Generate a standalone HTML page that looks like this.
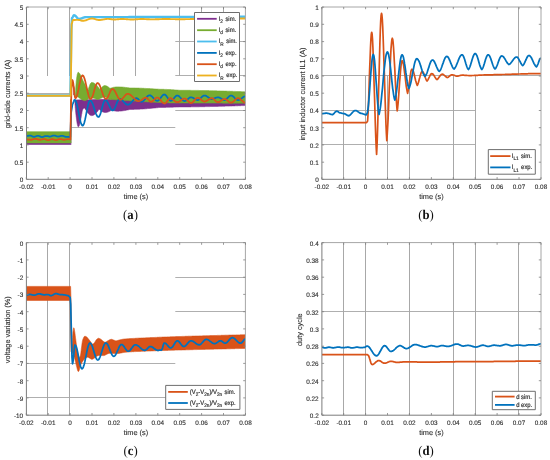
<!DOCTYPE html>
<html><head><meta charset="utf-8"><title>Figure</title>
<style>
html,body{margin:0;padding:0;background:#fff;}
body{width:550px;height:460px;overflow:hidden;}
svg{display:block;text-rendering:geometricPrecision;stroke-linejoin:round;font-family:"Liberation Sans",Arial,sans-serif;fill:#303030;}
text{stroke:#303030;stroke-width:0.12px;}
</style></head><body>
<svg width="550" height="460" viewBox="0 0 550 460">
<rect width="550" height="460" fill="#fff"/>
<clipPath id="ca"><rect x="26.5" y="7.0" width="218.9" height="172.3"/></clipPath>
<path d="M47.5 7.0V76.0M69.5 7.0V76.0M113.5 7.0V76.0M135.5 7.0V76.0M179.5 7.0V76.0M201.5 7.0V76.0M223.5 7.0V76.0" fill="none" stroke="#9e9e9e" stroke-width="0.9"/>
<path d="M26.5 93.5H70.1M70.1 127.5H175.3M175.3 144.5H245.4M175.3 110.5H245.4M175.3 75.5H245.4M175.3 41.5H245.4" fill="none" stroke="#a6a6a6" stroke-width="0.9"/>
<g clip-path="url(#ca)">
<rect x="26.3" y="134" width="44.4" height="10.8" fill="#7E2F8E"/>
<rect x="70.3" y="100" width="1" height="44.8" fill="#7E2F8E"/>
<polygon points="74.8,100.0 120.0,99.0 245.5,102.0 245.5,105.5 245.1,105.5 244.7,105.5 244.3,105.5 243.9,105.6 243.5,105.6 243.1,105.6 242.7,105.6 242.3,105.6 241.9,105.6 241.5,105.6 241.1,105.6 240.7,105.7 240.3,105.7 239.9,105.7 239.5,105.7 239.1,105.7 238.7,105.7 238.3,105.7 237.9,105.8 237.5,105.8 237.1,105.8 236.7,105.8 236.3,105.8 235.9,105.8 235.5,105.8 235.1,105.8 234.7,105.9 234.2,105.9 233.8,105.9 233.4,105.9 233.0,105.9 232.6,105.9 232.2,105.9 231.8,106.0 231.4,106.0 231.0,106.0 230.6,106.0 230.2,106.0 229.8,106.0 229.4,106.0 229.0,106.0 228.6,106.1 228.2,106.1 227.8,106.1 227.4,106.1 227.0,106.1 226.6,106.1 226.2,106.1 225.8,106.1 225.4,106.1 225.0,106.2 224.6,106.2 224.2,106.2 223.8,106.2 223.4,106.2 223.0,106.2 222.6,106.2 222.2,106.2 221.8,106.3 221.4,106.3 221.0,106.3 220.6,106.3 220.2,106.3 219.8,106.3 219.4,106.3 219.0,106.3 218.6,106.3 218.2,106.4 217.8,106.4 217.4,106.4 217.0,106.4 216.6,106.4 216.2,106.4 215.8,106.4 215.4,106.4 215.0,106.4 214.6,106.4 214.2,106.5 213.8,106.5 213.4,106.5 213.0,106.5 212.5,106.5 212.1,106.5 211.7,106.5 211.3,106.5 210.9,106.5 210.5,106.5 210.1,106.5 209.7,106.6 209.3,106.6 208.9,106.6 208.5,106.6 208.1,106.6 207.7,106.6 207.3,106.6 206.9,106.6 206.5,106.6 206.1,106.6 205.7,106.6 205.3,106.6 204.9,106.7 204.5,106.7 204.1,106.7 203.7,106.7 203.3,106.7 202.9,106.7 202.5,106.7 202.1,106.7 201.7,106.7 201.3,106.7 200.9,106.7 200.5,106.7 200.1,106.7 199.7,106.7 199.3,106.8 198.9,106.8 198.5,106.8 198.1,106.8 197.7,106.8 197.3,106.8 196.9,106.8 196.5,106.8 196.1,106.8 195.7,106.8 195.3,106.8 194.9,106.8 194.5,106.8 194.1,106.8 193.7,106.8 193.3,106.8 192.9,106.8 192.5,106.8 192.1,106.8 191.7,106.8 191.3,106.8 190.8,106.9 190.4,106.9 190.0,106.9 189.6,106.9 189.2,106.9 188.8,106.9 188.4,106.9 188.0,106.9 187.6,106.9 187.2,106.9 186.8,106.9 186.4,106.9 186.0,106.9 185.6,106.9 185.2,106.9 184.8,106.9 184.4,106.9 184.0,106.9 183.6,106.9 183.2,106.9 182.8,106.9 182.4,106.9 182.0,106.9 181.6,106.9 181.2,106.9 180.8,106.9 180.4,106.9 180.0,106.9 179.6,106.9 179.2,106.9 178.8,106.9 178.4,107.0 178.0,107.0 177.6,107.0 177.2,107.0 176.8,107.0 176.4,107.0 176.0,107.1 175.6,107.1 175.2,107.1 174.8,107.1 174.4,107.1 174.0,107.1 173.6,107.1 173.2,107.2 172.8,107.2 172.4,107.2 172.0,107.2 171.6,107.2 171.2,107.2 170.8,107.2 170.4,107.2 170.0,107.3 169.6,107.3 169.2,107.3 168.8,107.3 168.4,107.3 168.0,107.3 167.6,107.3 167.2,107.3 166.8,107.3 166.4,107.3 166.0,107.3 165.6,107.4 165.2,107.4 164.8,107.4 164.4,107.4 164.0,107.4 163.6,107.4 163.2,107.4 162.8,107.4 162.4,107.4 162.0,107.4 161.6,107.4 161.2,107.4 160.8,107.4 160.4,107.4 160.0,107.4 159.6,107.4 159.2,107.5 158.8,107.5 158.4,107.6 158.0,107.6 157.6,107.7 157.2,107.7 156.8,107.7 156.4,107.8 156.0,107.8 155.6,107.9 155.2,107.9 154.8,107.9 154.4,108.0 154.0,108.0 153.6,108.1 153.2,108.1 152.8,108.1 152.4,108.2 152.0,108.2 151.6,108.3 151.2,108.3 150.8,108.3 150.4,108.4 150.0,108.4 149.6,108.4 149.2,108.5 148.8,108.5 148.4,108.5 148.0,108.6 147.6,108.6 147.2,108.6 146.8,108.7 146.4,108.7 146.0,108.7 145.6,108.8 145.2,108.8 144.8,108.8 144.4,108.9 144.0,108.9 143.6,108.9 143.2,108.9 142.8,109.0 142.4,109.0 142.0,109.0 141.6,109.0 141.2,109.1 140.8,109.1 140.4,109.1 140.0,109.1 139.6,109.2 139.2,109.2 138.8,109.2 138.4,109.2 138.0,109.2 137.6,109.2 137.2,109.3 136.8,109.3 136.4,109.3 136.0,109.3 135.6,109.3 135.2,109.3 134.8,109.3 134.4,109.3 134.0,109.4 133.6,109.4 133.2,109.4 132.8,109.4 132.4,109.4 132.0,109.4 131.6,109.4 131.2,109.4 130.8,109.4 130.4,109.4 130.0,109.4 129.6,109.5 129.2,109.6 128.8,109.7 128.4,109.8 128.0,109.9 127.5,109.9 127.1,110.0 126.7,110.1 126.3,110.2 125.9,110.3 125.5,110.4 125.1,110.4 124.7,110.5 124.3,110.6 123.9,110.6 123.4,110.7 123.0,110.8 122.6,110.8 122.2,110.9 121.8,110.9 121.4,111.0 121.0,111.0 120.6,111.1 120.2,111.1 119.8,111.1 119.3,111.1 118.9,111.2 118.5,111.2 118.1,111.2 117.7,111.2 117.3,111.2 116.9,111.2 116.5,111.2 116.0,111.1 115.6,111.1 115.2,111.0 114.8,110.9 114.3,110.8 113.9,110.7 113.5,110.6 113.1,110.4 112.6,110.3 112.2,110.1 111.8,110.0 111.4,110.2 111.0,110.5 110.6,110.7 110.2,111.0 109.7,111.2 109.3,111.4 108.9,111.6 108.5,111.8 108.1,111.9 107.7,112.1 107.3,112.2 106.8,112.3 106.4,112.4 106.0,112.5 105.6,112.5 105.2,112.5 104.8,112.5 104.4,112.4 104.0,112.3 103.6,112.2 103.2,112.1 102.8,111.9 102.4,111.7 101.9,111.4 101.5,111.1 101.1,110.8 100.7,110.5 100.3,110.2 99.9,109.9 99.5,109.5 99.1,109.2 98.7,109.8 98.3,110.3 97.9,110.9 97.5,111.4 97.0,111.9 96.6,112.4 96.2,112.9 95.8,113.3 95.4,113.7 95.0,114.1 94.6,114.4 94.2,114.7 93.8,115.0 93.3,115.2 92.9,115.4 92.5,115.5 92.1,115.6 91.7,115.6 91.3,115.6 90.9,115.5 90.4,115.3 90.0,115.1 89.6,114.8 89.2,114.5 88.8,114.1 88.4,113.6 87.9,113.1 87.5,112.6 87.1,112.0 86.7,111.4 86.3,110.7 85.9,110.1 85.4,109.4 85.0,108.7 84.6,108.0 84.4,107.9 84.1,108.0 83.8,108.2 83.4,108.5 83.3,108.7 83.1,108.9 83.0,109.1 82.8,109.4 82.7,109.7 82.5,110.0 82.4,110.4 82.3,110.6 82.3,110.9 82.2,111.2 82.1,111.5 82.1,111.8 82.0,112.1 82.0,112.4 81.9,112.7 81.9,113.0 81.8,113.4 81.8,113.7 81.7,114.0 81.6,114.3 81.6,114.6 81.5,114.9 81.5,115.2 81.4,115.5 81.4,115.8 81.3,116.1 81.3,116.4 81.2,116.8 81.2,117.1 81.1,117.4 81.1,117.7 81.0,118.0 80.9,118.3 80.9,118.6 80.8,118.9 80.8,119.2 80.7,119.6 80.6,119.9 80.6,120.2 80.5,120.5 80.5,120.8 80.4,121.1 80.3,121.4 80.3,121.7 80.2,122.0 80.1,122.3 80.1,122.6 80.0,123.0 79.9,123.3 79.8,123.6 79.8,123.9 79.7,124.2 79.6,124.5 79.5,124.8 79.5,125.0 79.4,125.3 79.3,125.5 79.1,125.9 78.9,126.3 78.7,126.6 78.5,126.7 78.3,126.8 78.1,126.7 77.9,126.5 77.8,126.1 77.6,125.5 77.5,125.3 77.5,125.1 77.4,124.8 77.4,124.6 77.3,124.3 77.2,124.0 77.2,123.7 77.1,123.3 77.0,123.0 77.0,122.6 76.9,122.3 76.9,121.9 76.8,121.5 76.8,121.2 76.7,121.0 76.7,120.7 76.6,120.4 76.6,120.1 76.6,119.8 76.5,119.5 76.5,119.2 76.5,118.9 76.4,118.6 76.4,118.3 76.3,118.0 76.3,117.6 76.3,117.3 76.2,117.0 76.2,116.6 76.1,116.3 76.1,116.0 76.1,115.6 76.0,115.3 76.0,115.0 76.0,114.7 75.9,114.4 75.9,114.1 75.9,113.8 75.8,113.5 75.8,113.2 75.8,112.9 75.7,112.6 75.7,112.3 75.7,112.0 75.6,111.7 75.6,111.4 75.6,111.1 75.6,110.8 75.5,110.5 75.5,110.1 75.5,109.8 75.4,109.5 75.4,109.2 75.4,108.9 75.4,108.6 75.3,108.3 75.3,108.0 75.3,107.7 75.2,107.4 75.2,107.0 75.2,106.7 75.2,106.3 75.1,106.0 75.1,105.6 75.1,105.3 75.1,104.9 75.0,104.6 75.0,104.2 75.0,103.9 75.0,103.6 75.0,103.2 74.9,102.9 74.9,102.6 74.9,102.3 74.9,102.1 74.9,101.8 74.8,101.6 74.8,101.4 74.8,101.2 74.8,101.0" fill="#7E2F8E" stroke="#7E2F8E" stroke-width="0.6" stroke-linejoin="round"/>
<polygon points="73.3,95 73.6,88 74.1,86 74.6,88 74.9,95" fill="#7E2F8E"/>
<rect x="26.3" y="131.4" width="44.5" height="11.8" fill="#77AC30"/>
<rect x="70.4" y="99" width="1" height="44" fill="#77AC30"/>
<polygon points="75.2,96.0 75.2,95.8 75.2,95.7 75.2,95.4 75.3,95.2 75.3,95.0 75.3,94.7 75.3,94.4 75.3,94.1 75.3,93.8 75.4,93.5 75.4,93.2 75.4,92.8 75.4,92.5 75.5,92.1 75.5,91.8 75.5,91.4 75.5,91.1 75.6,90.7 75.6,90.4 75.6,90.0 75.6,89.7 75.6,89.4 75.7,89.2 75.7,88.9 75.7,88.5 75.7,88.2 75.7,87.9 75.8,87.6 75.8,87.3 75.8,87.0 75.8,86.6 75.9,86.3 75.9,86.0 75.9,85.6 75.9,85.3 76.0,85.0 76.0,84.7 76.0,84.3 76.0,84.0 76.1,83.7 76.1,83.4 76.1,83.1 76.1,82.8 76.2,82.5 76.2,82.3 76.2,82.0 76.2,81.6 76.3,81.3 76.3,80.9 76.3,80.6 76.4,80.2 76.4,79.9 76.5,79.6 76.5,79.3 76.5,79.0 76.6,78.6 76.6,78.4 76.7,78.1 76.7,77.8 76.7,77.5 76.8,77.3 76.8,77.0 76.9,76.7 76.9,76.5 77.0,76.1 77.0,75.7 77.1,75.3 77.2,74.9 77.2,74.6 77.3,74.3 77.4,74.0 77.5,73.8 77.5,73.5 77.6,73.3 77.8,72.8 77.9,72.5 78.1,72.3 78.3,72.3 78.5,72.4 78.7,72.5 78.9,72.7 79.2,72.9 79.4,73.2 79.7,73.6 79.8,73.8 80.0,74.0 80.1,74.3 80.2,74.6 80.4,74.8 80.5,75.1 80.7,75.4 80.8,75.7 81.0,76.1 81.1,76.4 81.3,76.7 81.4,77.0 81.5,77.3 81.7,77.5 81.8,77.8 81.9,78.1 82.0,78.4 82.2,78.7 82.3,79.0 82.4,79.3 82.6,79.6 82.7,79.9 82.8,80.2 82.9,80.4 83.1,80.7 83.2,81.0 83.3,81.3 83.5,81.6 83.6,81.9 83.8,82.2 83.9,82.4 84.0,82.7 84.2,83.0 84.3,83.3 84.5,83.5 84.6,83.8 84.7,84.1 84.9,84.3 85.0,84.6 85.1,84.9 85.3,85.2 85.4,85.5 85.6,85.8 85.7,86.1 85.9,86.4 86.0,86.7 86.1,87.0 86.3,87.3 86.4,87.5 86.5,87.8 86.7,88.1 86.8,88.5 87.0,88.8 87.1,89.1 87.2,89.4 87.3,89.6 87.4,89.8 87.5,90.0 87.9,90.8 88.3,89.4 88.7,88.0 89.2,86.7 89.6,85.5 90.0,84.4 90.4,83.6 90.9,83.0 91.3,82.6 91.7,82.5 92.1,82.5 92.5,82.6 92.9,82.7 93.4,82.8 93.8,83.0 94.2,83.3 94.6,83.5 95.0,83.8 95.4,84.2 95.8,84.6 96.3,85.0 96.7,85.4 97.1,85.8 97.5,86.3 97.9,86.8 98.3,87.3 98.8,87.9 99.2,88.4 99.6,89.0 100.0,89.5 100.4,88.9 100.9,88.4 101.3,87.9 101.7,87.4 102.2,86.9 102.6,86.6 103.1,86.2 103.5,86.0 103.9,85.8 104.4,85.6 104.8,85.6 105.2,85.6 105.6,85.7 106.0,85.8 106.4,85.9 106.8,86.1 107.2,86.3 107.6,86.5 108.0,86.8 108.4,87.1 108.8,87.4 109.2,87.7 109.6,88.1 110.0,88.4 110.4,88.3 110.8,88.1 111.2,88.0 111.6,87.9 112.0,87.8 112.4,87.7 112.8,87.5 113.2,87.4 113.7,87.3 114.1,87.3 114.5,87.2 114.9,87.1 115.3,87.0 115.7,87.0 116.1,87.0 116.5,86.9 116.9,86.9 117.3,86.9 117.7,86.9 118.1,86.9 118.5,86.9 118.9,86.9 119.3,86.9 119.8,87.0 120.2,87.0 120.6,87.0 121.0,87.0 121.4,87.0 121.8,87.1 122.2,87.1 122.6,87.1 123.0,87.2 123.4,87.2 123.9,87.2 124.3,87.3 124.7,87.3 125.1,87.4 125.5,87.4 125.9,87.5 126.3,87.5 126.7,87.6 127.1,87.6 127.5,87.7 128.0,87.7 128.4,87.8 128.8,87.8 129.2,87.9 129.6,87.9 130.0,88.0 130.4,88.0 130.8,88.0 131.2,88.0 131.6,88.0 132.0,88.0 132.4,88.0 132.8,88.0 133.2,88.0 133.6,88.0 134.0,88.0 134.4,88.0 134.8,88.0 135.2,88.0 135.6,88.1 136.0,88.1 136.4,88.1 136.8,88.1 137.2,88.1 137.6,88.1 138.0,88.1 138.4,88.1 138.8,88.1 139.2,88.1 139.6,88.2 140.0,88.2 140.4,88.2 140.8,88.2 141.2,88.2 141.6,88.2 142.0,88.2 142.4,88.3 142.8,88.3 143.2,88.3 143.6,88.3 144.0,88.3 144.4,88.4 144.8,88.4 145.2,88.4 145.6,88.4 146.0,88.4 146.4,88.5 146.8,88.5 147.2,88.5 147.6,88.5 148.0,88.5 148.4,88.6 148.8,88.6 149.2,88.6 149.6,88.6 150.0,88.6 150.4,88.7 150.8,88.7 151.2,88.7 151.6,88.7 152.0,88.8 152.4,88.8 152.8,88.8 153.2,88.8 153.6,88.9 154.0,88.9 154.4,88.9 154.8,89.0 155.2,89.0 155.6,89.0 156.0,89.0 156.4,89.1 156.8,89.1 157.2,89.1 157.6,89.1 158.0,89.2 158.4,89.2 158.8,89.2 159.2,89.2 159.6,89.3 160.0,89.3 160.4,89.3 160.8,89.3 161.2,89.3 161.6,89.3 162.0,89.3 162.4,89.3 162.8,89.3 163.2,89.3 163.6,89.3 164.0,89.3 164.4,89.4 164.8,89.4 165.2,89.4 165.6,89.4 166.0,89.4 166.4,89.4 166.8,89.4 167.2,89.5 167.6,89.5 168.0,89.5 168.4,89.5 168.8,89.5 169.2,89.5 169.6,89.6 170.0,89.6 170.4,89.6 170.8,89.6 171.2,89.7 171.6,89.7 172.0,89.7 172.4,89.7 172.8,89.8 173.2,89.8 173.6,89.8 174.0,89.8 174.4,89.9 174.8,89.9 175.2,89.9 175.6,90.0 176.0,90.0 176.4,90.0 176.8,90.1 177.2,90.1 177.6,90.1 178.0,90.1 178.4,90.2 178.8,90.2 179.2,90.2 179.6,90.3 180.0,90.3 180.4,90.3 180.8,90.3 181.2,90.3 181.6,90.3 182.0,90.3 182.4,90.3 182.8,90.3 183.2,90.3 183.6,90.3 184.0,90.3 184.4,90.3 184.8,90.3 185.2,90.3 185.6,90.3 186.0,90.3 186.4,90.3 186.8,90.3 187.2,90.3 187.6,90.3 188.0,90.3 188.4,90.3 188.8,90.3 189.2,90.3 189.6,90.3 190.0,90.3 190.4,90.3 190.8,90.4 191.3,90.4 191.7,90.4 192.1,90.4 192.5,90.4 192.9,90.4 193.3,90.4 193.7,90.4 194.1,90.4 194.5,90.4 194.9,90.4 195.3,90.4 195.7,90.4 196.1,90.4 196.5,90.4 196.9,90.4 197.3,90.4 197.7,90.4 198.1,90.4 198.5,90.4 198.9,90.5 199.3,90.5 199.7,90.5 200.1,90.5 200.5,90.5 200.9,90.5 201.3,90.5 201.7,90.5 202.1,90.5 202.5,90.5 202.9,90.5 203.3,90.5 203.7,90.5 204.1,90.5 204.5,90.6 204.9,90.6 205.3,90.6 205.7,90.6 206.1,90.6 206.5,90.6 206.9,90.6 207.3,90.6 207.7,90.6 208.1,90.6 208.5,90.6 208.9,90.6 209.3,90.7 209.7,90.7 210.1,90.7 210.5,90.7 210.9,90.7 211.3,90.7 211.7,90.7 212.1,90.7 212.5,90.7 213.0,90.7 213.4,90.8 213.8,90.8 214.2,90.8 214.6,90.8 215.0,90.8 215.4,90.8 215.8,90.8 216.2,90.8 216.6,90.8 217.0,90.9 217.4,90.9 217.8,90.9 218.2,90.9 218.6,90.9 219.0,90.9 219.4,90.9 219.8,90.9 220.2,90.9 220.6,91.0 221.0,91.0 221.4,91.0 221.8,91.0 222.2,91.0 222.6,91.0 223.0,91.0 223.4,91.0 223.8,91.1 224.2,91.1 224.6,91.1 225.0,91.1 225.4,91.1 225.8,91.1 226.2,91.1 226.6,91.1 227.0,91.2 227.4,91.2 227.8,91.2 228.2,91.2 228.6,91.2 229.0,91.2 229.4,91.2 229.8,91.2 230.2,91.3 230.6,91.3 231.0,91.3 231.4,91.3 231.8,91.3 232.2,91.3 232.6,91.3 233.0,91.4 233.4,91.4 233.8,91.4 234.2,91.4 234.7,91.4 235.1,91.4 235.5,91.4 235.9,91.5 236.3,91.5 236.7,91.5 237.1,91.5 237.5,91.5 237.9,91.5 238.3,91.5 238.7,91.6 239.1,91.6 239.5,91.6 239.9,91.6 240.3,91.6 240.7,91.6 241.1,91.6 241.5,91.7 241.9,91.7 242.3,91.7 242.7,91.7 243.1,91.7 243.5,91.7 243.9,91.7 244.3,91.8 244.7,91.8 245.1,91.8 245.5,91.8 245.5,103.2 245.3,103.2 245.2,103.2 245.0,103.2 244.9,103.2 244.7,103.2 244.5,103.2 244.4,103.2 244.2,103.2 244.0,103.2 243.8,103.2 243.6,103.2 243.4,103.2 243.2,103.2 243.0,103.2 242.8,103.2 242.6,103.2 242.4,103.2 242.2,103.2 242.0,103.2 241.8,103.2 241.6,103.2 241.4,103.2 241.1,103.2 240.9,103.2 240.7,103.2 240.4,103.2 240.2,103.2 240.0,103.2 239.7,103.2 239.5,103.2 239.2,103.2 239.0,103.2 238.7,103.2 238.5,103.2 238.2,103.2 237.9,103.2 237.7,103.2 237.4,103.2 237.1,103.2 236.9,103.2 236.6,103.2 236.3,103.2 236.0,103.2 235.8,103.2 235.5,103.2 235.2,103.2 234.9,103.2 234.6,103.2 234.3,103.2 234.0,103.2 233.7,103.2 233.4,103.2 233.1,103.2 232.8,103.2 232.5,103.2 232.2,103.2 231.9,103.2 231.6,103.2 231.3,103.2 231.0,103.2 230.6,103.2 230.3,103.2 230.0,103.2 229.7,103.2 229.4,103.2 229.0,103.2 228.7,103.2 228.4,103.2 228.1,103.2 227.7,103.2 227.4,103.2 227.1,103.2 226.7,103.2 226.4,103.2 226.0,103.2 225.7,103.2 225.4,103.2 225.0,103.2 224.7,103.2 224.3,103.2 224.0,103.2 223.6,103.2 223.3,103.2 223.0,103.2 222.6,103.2 222.3,103.1 221.9,103.1 221.6,103.1 221.2,103.1 220.8,103.1 220.5,103.1 220.1,103.1 219.8,103.1 219.4,103.1 219.1,103.1 218.7,103.1 218.3,103.1 218.0,103.1 217.6,103.1 217.3,103.1 216.9,103.1 216.5,103.1 216.2,103.1 215.8,103.1 215.5,103.1 215.1,103.1 214.7,103.1 214.4,103.1 214.0,103.1 213.6,103.1 213.3,103.1 212.9,103.1 212.5,103.1 212.2,103.1 211.8,103.1 211.4,103.1 211.1,103.1 210.7,103.1 210.4,103.1 210.0,103.1 209.6,103.1 209.3,103.1 208.9,103.1 208.5,103.1 208.2,103.1 207.8,103.1 207.4,103.1 207.1,103.1 206.7,103.1 206.4,103.1 206.0,103.1 205.6,103.1 205.3,103.1 204.9,103.1 204.6,103.1 204.2,103.1 203.8,103.1 203.5,103.1 203.1,103.1 202.8,103.1 202.4,103.1 202.1,103.1 201.7,103.1 201.4,103.1 201.0,103.1 200.7,103.1 200.3,103.1 200.0,103.1 199.6,103.1 199.3,103.1 198.9,103.1 198.6,103.1 198.2,103.1 197.9,103.1 197.5,103.1 197.2,103.1 196.9,103.1 196.5,103.1 196.2,103.1 195.9,103.1 195.5,103.1 195.2,103.1 194.9,103.1 194.5,103.1 194.2,103.1 193.9,103.1 193.6,103.1 193.3,103.1 192.9,103.1 192.6,103.1 192.3,103.1 192.0,103.1 191.7,103.1 191.4,103.1 191.1,103.1 190.7,103.1 190.4,103.1 190.1,103.1 189.8,103.1 189.5,103.1 189.2,103.1 188.9,103.1 188.7,103.1 188.4,103.0 188.1,103.0 187.8,103.0 187.5,103.0 187.2,103.0 186.9,103.0 186.7,103.0 186.4,103.0 186.1,103.0 185.8,103.0 185.6,103.0 185.3,103.0 185.1,103.0 184.8,103.0 184.5,103.0 184.3,103.0 184.0,103.0 183.8,103.0 183.5,103.0 183.3,103.0 183.1,103.0 182.8,103.0 182.6,103.0 182.3,103.0 182.1,103.0 181.9,103.0 181.7,103.0 181.5,103.0 181.2,103.0 181.0,103.0 180.8,103.0 180.6,103.0 180.4,103.0 180.2,103.0 180.0,103.0 179.4,103.0 178.7,103.0 178.1,103.0 177.6,103.0 177.0,103.0 176.5,103.0 176.0,103.0 175.4,103.0 175.0,103.0 174.5,102.9 174.0,102.9 173.6,102.9 173.2,102.9 172.8,102.9 172.4,102.9 172.0,102.9 171.6,102.9 171.3,102.9 170.9,102.9 170.6,102.9 170.3,102.9 170.0,102.9 169.7,102.9 169.4,102.9 169.1,102.9 168.8,102.9 168.6,102.8 168.3,102.8 168.1,102.8 167.8,102.8 167.6,102.8 167.4,102.8 167.2,102.8 166.9,102.8 166.7,102.8 166.5,102.8 166.3,102.8 166.1,102.8 165.9,102.8 165.7,102.8 165.5,102.7 165.4,102.7 165.2,102.7 165.0,102.7 164.8,102.7 164.6,102.7 164.4,102.7 164.2,102.7 164.0,102.7 163.8,102.7 163.6,102.7 163.4,102.7 163.2,102.6 163.0,102.6 162.8,102.6 162.6,102.6 162.4,102.6 162.1,102.6 161.9,102.6 161.6,102.6 161.4,102.6 161.1,102.5 160.9,102.5 160.6,102.5 160.3,102.5 160.0,102.5 159.7,102.5 159.4,102.5 159.1,102.5 158.8,102.5 158.5,102.4 158.2,102.4 157.9,102.4 157.6,102.4 157.3,102.4 157.1,102.4 156.8,102.4 156.5,102.3 156.2,102.3 155.9,102.3 155.6,102.3 155.4,102.3 155.1,102.3 154.8,102.3 154.5,102.3 154.2,102.2 153.9,102.2 153.7,102.2 153.4,102.2 153.1,102.2 152.8,102.2 152.5,102.2 152.3,102.1 152.0,102.1 151.7,102.1 151.4,102.1 151.1,102.1 150.8,102.1 150.6,102.0 150.3,102.0 150.0,102.0 149.7,102.0 149.4,102.0 149.1,102.0 148.8,101.9 148.5,101.9 148.2,101.9 147.9,101.9 147.6,101.9 147.3,101.9 147.0,101.8 146.7,101.8 146.4,101.8 146.1,101.8 145.8,101.8 145.5,101.7 145.2,101.7 144.8,101.7 144.5,101.7 144.2,101.7 143.9,101.6 143.5,101.6 143.2,101.6 142.8,101.6 142.5,101.6 142.2,101.5 141.8,101.5 141.5,101.5 141.1,101.5 140.7,101.4 140.4,101.4 140.0,101.4 139.7,101.4 139.5,101.4 139.2,101.3 138.9,101.3 138.7,101.3 138.4,101.3 138.1,101.3 137.8,101.3 137.5,101.2 137.2,101.2 136.9,101.2 136.6,101.2 136.3,101.2 136.0,101.1 135.7,101.1 135.4,101.1 135.1,101.1 134.7,101.1 134.4,101.0 134.1,101.0 133.8,101.0 133.4,101.0 133.1,100.9 132.8,100.9 132.4,100.9 132.1,100.9 131.7,100.9 131.4,100.8 131.0,100.8 130.7,100.8 130.3,100.8 130.0,100.7 129.7,100.7 129.3,100.7 128.9,100.7 128.6,100.6 128.2,100.6 127.9,100.6 127.5,100.6 127.2,100.5 126.8,100.5 126.5,100.5 126.1,100.5 125.8,100.5 125.4,100.4 125.1,100.4 124.7,100.4 124.4,100.4 124.0,100.3 123.7,100.3 123.3,100.3 123.0,100.3 122.6,100.2 122.3,100.2 122.0,100.2 121.6,100.2 121.3,100.1 121.0,100.1 120.6,100.1 120.3,100.1 120.0,100.0 119.6,100.0 119.3,100.0 119.0,100.0 118.7,100.0 118.4,99.9 118.1,99.9 117.8,99.9 117.5,99.9 117.2,99.9 116.9,99.8 116.6,99.8 116.3,99.8 116.0,99.8 115.7,99.7 115.4,99.7 115.2,99.7 114.9,99.7 114.6,99.7 114.4,99.7 114.1,99.6 113.9,99.6 113.6,99.6 113.4,99.6 113.2,99.6 112.9,99.5 112.7,99.5 112.5,99.5 112.3,99.5 112.1,99.5 111.9,99.5 111.7,99.5 111.5,99.4 111.3,99.4 111.2,99.4 111.0,99.4 109.1,99.3 108.4,99.2 108.5,99.2 108.8,99.2 109.1,99.1 109.0,99.0 108.8,98.9 108.5,98.8 108.3,98.6 108.0,98.5 107.7,98.3 107.5,98.1 107.2,97.9 106.9,97.8 106.6,97.6 106.3,97.4 105.9,97.3 105.6,97.1 105.4,97.0 105.1,96.9 104.8,96.9 104.5,96.9 104.2,96.9 103.9,97.0 103.6,97.1 103.3,97.2 103.0,97.3 102.7,97.4 102.4,97.6 102.1,97.7 101.8,97.8 101.5,98.0 101.3,98.1 101.0,98.2 100.7,98.3 100.4,98.5 100.1,98.6 99.8,98.7 99.5,98.9 99.3,99.0 99.0,99.1 98.7,99.2 98.4,99.3 98.1,99.4 97.8,99.4 97.5,99.4 97.3,99.4 97.0,99.3 96.7,99.2 96.4,99.1 96.1,99.0 95.8,98.9 95.5,98.8 95.2,98.7 94.9,98.6 94.6,98.5 94.3,98.4 94.0,98.3 93.7,98.2 93.4,98.2 93.1,98.1 92.7,98.0 92.4,97.9 92.1,97.9 91.8,97.8 91.4,97.7 91.1,97.7 90.8,97.7 90.5,97.7 90.3,97.7 90.0,97.7 89.7,97.8 89.4,97.9 89.1,98.1 88.9,98.3 88.7,98.5 88.4,98.7 88.2,98.9 88.0,99.1 87.8,99.3 87.5,99.5 87.2,99.7 86.9,99.9 86.6,100.0 86.3,100.2 86.1,100.4 85.8,100.5 85.4,100.6 85.1,100.7 84.8,100.7 84.5,100.7 84.2,100.6 83.9,100.6 83.6,100.5 83.3,100.4 83.0,100.3 82.7,100.1 82.4,100.0 82.1,99.8 81.8,99.7 81.5,99.5 81.3,99.4 81.0,99.2 80.8,99.0 80.5,98.8 80.3,98.6 80.0,98.4 79.8,98.3 79.5,98.1 79.3,97.9 79.0,97.7 78.8,97.5 78.5,97.3 78.3,97.2 78.0,97.0 77.7,96.9 77.4,96.8 77.0,96.6 76.7,96.5 76.4,96.4 76.1,96.3 75.8,96.2 75.6,96.1 75.4,96.1 75.2,96.0" fill="#77AC30" stroke="#77AC30" stroke-width="0.6" stroke-linejoin="round"/>
<polyline points="26.3,95.5 70.4,95.5 71.3,30.0 72.0,18.0 72.4,17.7 72.8,17.0 73.2,16.2 73.6,15.5 74.0,15.2 74.4,15.3 74.8,15.4 75.2,15.7 75.7,16.1 76.1,16.6 76.5,17.0 76.9,17.5 77.3,18.0 77.8,18.4 78.2,18.7 78.6,18.8 79.0,18.9 79.4,18.9 79.8,18.8 80.2,18.8 80.6,18.7 81.1,18.5 81.5,18.4 81.9,18.2 82.3,18.1 82.7,17.9 83.1,17.8 83.5,17.6 83.9,17.5 84.4,17.3 84.8,17.2 85.2,17.2 85.6,17.1 86.0,17.1 86.4,17.1 86.8,17.1 87.2,17.1 87.6,17.1 88.0,17.1 88.4,17.1 88.8,17.1 89.2,17.1 89.6,17.1 90.0,17.1 90.4,17.1 90.8,17.1 91.2,17.1 91.6,17.1 92.0,17.1 92.4,17.1 92.8,17.1 93.2,17.1 93.6,17.1 94.0,17.1 94.4,17.1 94.8,17.1 95.2,17.1 95.6,17.1 96.0,17.1 96.4,17.1 96.8,17.1 97.2,17.1 97.6,17.1 98.0,17.1 98.4,17.1 98.8,17.1 99.2,17.1 99.6,17.1 100.0,17.1 100.4,17.1 100.8,17.1 101.2,17.1 101.6,17.1 102.0,17.1 102.4,17.1 102.8,17.1 103.2,17.1 103.6,17.1 104.0,17.1 104.4,17.1 104.8,17.1 105.2,17.1 105.6,17.1 106.0,17.1 106.4,17.1 106.8,17.1 107.2,17.1 107.6,17.1 108.0,17.1 108.4,17.1 108.8,17.1 109.2,17.1 109.6,17.1 110.0,17.1 110.4,17.1 110.8,17.1 111.2,17.1 111.6,17.1 112.0,17.1 112.4,17.1 112.9,17.1 113.3,17.1 113.7,17.1 114.1,17.1 114.5,17.1 114.9,17.1 115.3,17.1 115.7,17.1 116.1,17.1 116.5,17.1 116.9,17.1 117.3,17.1 117.7,17.1 118.1,17.1 118.5,17.1 118.9,17.1 119.3,17.1 119.7,17.1 120.1,17.1 120.5,17.1 120.9,17.1 121.3,17.1 121.7,17.1 122.1,17.1 122.5,17.1 122.9,17.1 123.3,17.1 123.7,17.1 124.1,17.1 124.5,17.1 124.9,17.1 125.3,17.1 125.7,17.1 126.1,17.1 126.5,17.1 126.9,17.1 127.3,17.1 127.7,17.1 128.1,17.1 128.5,17.1 128.9,17.0 129.3,17.0 129.7,17.0 130.1,17.0 130.5,17.0 130.9,17.0 131.3,17.0 131.7,17.0 132.1,17.0 132.5,17.0 132.9,17.0 133.3,17.0 133.7,17.0 134.1,17.0 134.5,17.0 134.9,17.0 135.3,17.0 135.7,17.0 136.1,17.0 136.5,17.0 136.9,17.0 137.3,17.0 137.7,17.0 138.1,17.0 138.5,17.0 138.9,17.0 139.3,17.0 139.7,17.0 140.1,17.0 140.5,17.0 140.9,17.0 141.3,17.0 141.7,17.0 142.1,17.0 142.5,17.0 142.9,17.0 143.3,17.0 143.7,17.0 144.1,17.0 144.5,17.0 144.9,17.0 145.3,17.0 145.7,17.0 146.1,17.0 146.5,17.0 146.9,17.0 147.3,17.0 147.7,17.0 148.1,17.0 148.5,17.0 148.9,17.0 149.3,17.0 149.7,17.0 150.1,17.0 150.5,17.0 150.9,17.0 151.3,17.0 151.7,17.0 152.1,17.0 152.5,17.0 152.9,17.0 153.3,17.0 153.7,17.0 154.1,17.0 154.5,17.0 154.9,17.0 155.3,17.0 155.7,17.0 156.1,17.0 156.5,17.0 156.9,17.0 157.3,17.0 157.7,17.0 158.1,17.0 158.5,17.0 158.9,17.0 159.3,17.0 159.7,17.0 160.1,17.0 160.5,17.0 160.9,17.0 161.3,17.0 161.7,17.0 162.1,17.0 162.5,17.0 162.9,17.0 163.3,17.0 163.7,17.0 164.1,17.0 164.5,17.0 164.9,17.0 165.3,17.0 165.8,17.0 166.2,16.9 166.6,16.9 167.0,16.9 167.4,16.9 167.8,16.9 168.2,16.9 168.6,16.9 169.0,16.9 169.4,16.9 169.8,16.9 170.2,16.9 170.6,16.9 171.0,16.9 171.4,16.9 171.8,16.9 172.2,16.9 172.6,16.9 173.0,16.9 173.4,16.9 173.8,16.9 174.2,16.9 174.6,16.9 175.0,16.9 175.4,16.9 175.8,16.9 176.2,16.9 176.6,16.9 177.0,16.9 177.4,16.9 177.8,16.9 178.2,16.9 178.6,16.9 179.0,16.9 179.4,16.9 179.8,16.9 180.2,16.9 180.6,16.9 181.0,16.9 181.4,16.9 181.8,16.9 182.2,16.9 182.6,16.9 183.0,16.9 183.4,16.9 183.8,16.9 184.2,16.9 184.6,16.9 185.0,16.9 185.4,16.9 185.8,16.9 186.2,16.9 186.6,16.9 187.0,16.9 187.4,16.9 187.8,16.9 188.2,16.9 188.6,16.9 189.0,16.9 189.4,16.9 189.8,16.9 190.2,16.9 190.6,16.9 191.0,16.9 191.4,16.9 191.8,16.9 192.2,16.9 192.6,16.9 193.0,16.9 193.4,16.9 193.8,16.9 194.2,16.9 194.6,16.9 195.0,16.9 195.4,16.9 195.8,16.9 196.2,16.9 196.6,16.9 197.0,16.9 197.4,16.9 197.8,16.9 198.2,16.9 198.6,16.9 199.0,16.9 199.4,16.9 199.8,16.9 200.2,16.9 200.6,16.9 201.0,16.9 201.4,16.9 201.8,16.9 202.2,16.9 202.6,16.9 203.0,16.8 203.4,16.8 203.8,16.8 204.2,16.8 204.6,16.8 205.0,16.8 205.4,16.8 205.8,16.8 206.2,16.8 206.6,16.8 207.0,16.8 207.4,16.8 207.8,16.8 208.2,16.8 208.6,16.8 209.0,16.8 209.4,16.8 209.8,16.8 210.2,16.8 210.6,16.8 211.0,16.8 211.4,16.8 211.8,16.8 212.2,16.8 212.6,16.8 213.0,16.8 213.4,16.8 213.8,16.8 214.2,16.8 214.6,16.8 215.0,16.8 215.4,16.8 215.8,16.8 216.2,16.8 216.6,16.8 217.0,16.8 217.4,16.8 217.8,16.8 218.2,16.8 218.6,16.8 219.1,16.8 219.5,16.8 219.9,16.8 220.3,16.8 220.7,16.8 221.1,16.8 221.5,16.8 221.9,16.8 222.3,16.8 222.7,16.8 223.1,16.8 223.5,16.8 223.9,16.8 224.3,16.8 224.7,16.8 225.1,16.8 225.5,16.8 225.9,16.8 226.3,16.8 226.7,16.8 227.1,16.8 227.5,16.8 227.9,16.8 228.3,16.8 228.7,16.8 229.1,16.8 229.5,16.8 229.9,16.8 230.3,16.8 230.7,16.8 231.1,16.8 231.5,16.8 231.9,16.8 232.3,16.8 232.7,16.8 233.1,16.8 233.5,16.8 233.9,16.8 234.3,16.8 234.7,16.8 235.1,16.8 235.5,16.8 235.9,16.8 236.3,16.8 236.7,16.8 237.1,16.8 237.5,16.8 237.9,16.8 238.3,16.8 238.7,16.8 239.1,16.8 239.5,16.8 239.9,16.8 240.3,16.8 240.7,16.8 241.1,16.8 241.5,16.8 241.9,16.8 242.3,16.8 242.7,16.8 243.1,16.8 243.5,16.8 243.9,16.8 244.3,16.8 244.7,16.8 245.1,16.8 245.5,16.8" fill="none" stroke="#4DBEEE" stroke-width="2.4" stroke-linejoin="round" stroke-linecap="butt"/>
<polyline points="26.3,136.0 26.7,136.0 27.1,136.0 27.5,135.9 27.9,135.8 28.4,135.8 28.8,135.7 29.2,135.6 29.6,135.6 30.0,135.6 30.4,135.6 30.8,135.7 31.2,135.8 31.6,136.0 32.0,136.2 32.4,136.4 32.8,136.6 33.2,136.7 33.6,136.8 34.0,136.8 34.4,136.8 34.8,136.7 35.2,136.6 35.6,136.5 36.0,136.3 36.4,136.1 36.8,136.0 37.2,135.9 37.6,135.8 38.0,135.8 38.4,135.8 38.8,135.9 39.2,136.0 39.6,136.2 40.0,136.4 40.4,136.6 40.8,136.8 41.2,136.9 41.6,137.0 42.0,137.0 42.4,137.0 42.8,136.9 43.2,136.8 43.6,136.7 44.0,136.5 44.4,136.3 44.8,136.2 45.2,136.1 45.6,136.0 46.0,136.0 46.4,136.0 46.8,136.0 47.2,136.1 47.6,136.2 48.0,136.2 48.4,136.3 48.8,136.4 49.2,136.5 49.6,136.5 50.0,136.5 50.4,136.5 50.8,136.4 51.2,136.3 51.6,136.2 52.0,136.0 52.4,135.8 52.8,135.7 53.2,135.6 53.6,135.5 54.0,135.5 54.4,135.5 54.8,135.6 55.2,135.7 55.6,135.8 56.0,136.0 56.4,136.2 56.8,136.3 57.2,136.4 57.6,136.5 58.0,136.5 58.4,136.5 58.8,136.4 59.2,136.4 59.6,136.3 60.0,136.2 60.4,136.0 60.8,135.9 61.2,135.9 61.6,135.8 62.0,135.8 62.4,135.8 62.8,135.9 63.2,136.0 63.6,136.1 64.0,136.3 64.4,136.5 64.8,136.6 65.2,136.7 65.6,136.8 66.0,136.8 66.4,136.8 66.9,136.8 67.3,136.8 67.7,136.9 68.2,136.9 68.6,136.9 69.0,137.0 69.4,137.0 69.9,137.0 70.3,137.0 71.2,112.0 72.5,104.0 72.9,103.6 73.3,102.5 73.8,101.3 74.2,100.2 74.6,99.8 75.0,100.0 75.4,100.4 75.8,101.2 76.2,102.3 76.6,103.6 77.0,105.1 77.4,106.8 77.8,108.7 78.2,110.7 78.6,112.7 79.0,114.7 79.4,116.7 79.8,118.6 80.2,120.3 80.6,121.8 81.0,123.1 81.4,124.2 81.8,125.0 82.2,125.4 82.6,125.6 83.0,125.4 83.4,124.9 83.8,124.1 84.2,123.0 84.6,121.5 85.0,119.9 85.4,118.1 85.8,116.1 86.2,114.1 86.6,112.0 87.0,110.0 87.4,108.0 87.8,106.2 88.2,104.6 88.6,103.1 89.0,102.0 89.4,101.2 89.8,100.7 90.2,100.5 90.6,100.6 91.0,100.9 91.4,101.4 91.8,102.1 92.2,102.9 92.7,103.9 93.1,105.0 93.5,106.2 93.9,107.5 94.3,108.8 94.7,110.0 95.1,111.3 95.5,112.5 95.9,113.6 96.4,114.6 96.8,115.4 97.2,116.1 97.6,116.6 98.0,116.9 98.4,117.0 98.8,116.9 99.2,116.4 99.6,115.7 100.0,114.8 100.5,113.6 100.9,112.3 101.3,110.8 101.7,109.3 102.1,107.7 102.5,106.2 102.9,104.7 103.3,103.4 103.8,102.2 104.2,101.3 104.6,100.6 105.0,100.1 105.4,100.0 105.8,100.1 106.2,100.3 106.6,100.7 107.0,101.2 107.4,101.9 107.8,102.6 108.2,103.5 108.6,104.3 109.1,105.2 109.5,106.2 109.9,107.0 110.3,107.9 110.7,108.6 111.1,109.3 111.5,109.8 111.9,110.2 112.3,110.4 112.7,110.5 113.1,110.4 113.5,110.1 113.9,109.6 114.3,109.0 114.8,108.2 115.2,107.3 115.6,106.3 116.0,105.2 116.4,104.2 116.8,103.1 117.2,102.1 117.6,101.2 118.1,100.4 118.5,99.8 118.9,99.3 119.3,99.0 119.7,98.9 120.1,98.9 120.5,99.0 120.9,99.2 121.3,99.5 121.7,99.7 122.1,100.1 122.5,100.5 122.9,100.9 123.3,101.3 123.7,101.8 124.1,102.3 124.5,102.7 124.9,103.1 125.3,103.5 125.7,103.9 126.1,104.1 126.5,104.4 126.9,104.6 127.3,104.7 127.7,104.7 128.1,104.7 128.5,104.6 129.0,104.4 129.4,104.1 129.8,103.8 130.2,103.5 130.6,103.1 131.1,102.6 131.5,102.2 131.9,101.7 132.3,101.2 132.7,100.7 133.1,100.3 133.6,99.8 134.0,99.4 134.4,99.1 134.8,98.8 135.2,98.5 135.7,98.3 136.1,98.2 136.5,98.2 136.9,98.3 137.3,98.4 137.8,98.7 138.2,99.1 138.6,99.5 139.0,100.0 139.4,100.5 139.8,100.9 140.2,101.3 140.7,101.6 141.1,101.7 141.5,101.8 141.9,101.8 142.3,101.6 142.7,101.4 143.1,101.2 143.5,100.8 143.9,100.5 144.3,100.0 144.7,99.6 145.1,99.1 145.5,98.5 145.9,98.0 146.3,97.5 146.7,97.1 147.1,96.6 147.5,96.3 147.9,95.9 148.3,95.7 148.7,95.5 149.1,95.3 149.5,95.3 149.9,95.3 150.3,95.4 150.7,95.6 151.2,95.9 151.6,96.2 152.0,96.5 152.4,96.9 152.8,97.4 153.2,97.8 153.7,98.3 154.1,98.7 154.5,99.2 154.9,99.6 155.3,99.9 155.7,100.2 156.2,100.5 156.6,100.7 157.0,100.8 157.4,100.8 157.8,100.7 158.2,100.6 158.6,100.3 159.0,100.0 159.4,99.5 159.8,99.1 160.2,98.5 160.6,97.9 161.1,97.4 161.5,96.8 161.9,96.2 162.3,95.8 162.7,95.3 163.1,95.0 163.5,94.7 163.9,94.6 164.3,94.5 164.7,94.6 165.1,94.7 165.5,95.0 165.9,95.4 166.3,95.9 166.7,96.4 167.1,97.0 167.6,97.6 168.0,98.3 168.4,98.9 168.8,99.4 169.2,99.9 169.6,100.3 170.0,100.6 170.4,100.7 170.8,100.8 171.2,100.7 171.6,100.6 172.0,100.4 172.4,100.0 172.8,99.6 173.2,99.2 173.6,98.7 174.1,98.2 174.5,97.6 174.9,97.1 175.3,96.7 175.7,96.3 176.1,95.9 176.5,95.7 176.9,95.6 177.3,95.5 177.7,95.5 178.1,95.7 178.6,95.9 179.0,96.2 179.4,96.6 179.8,97.0 180.3,97.5 180.7,98.0 181.1,98.5 181.5,99.0 182.0,99.5 182.4,99.9 182.8,100.3 183.2,100.6 183.7,100.8 184.1,101.0 184.5,101.0 184.9,101.0 185.3,100.9 185.7,100.7 186.1,100.5 186.5,100.2 186.9,99.9 187.3,99.5 187.8,99.2 188.2,98.8 188.6,98.4 189.0,98.1 189.4,97.8 189.8,97.6 190.2,97.4 190.6,97.3 191.0,97.3 191.4,97.3 191.8,97.4 192.2,97.5 192.7,97.7 193.1,97.9 193.5,98.1 193.9,98.4 194.3,98.6 194.7,98.9 195.1,99.2 195.5,99.4 195.9,99.6 196.4,99.8 196.8,99.9 197.2,100.0 197.6,100.0 198.0,100.0 198.4,99.8 198.8,99.7 199.2,99.4 199.6,99.1 200.0,98.8 200.4,98.4 200.8,98.0 201.3,97.5 201.7,97.1 202.1,96.7 202.5,96.4 202.9,96.1 203.3,95.8 203.7,95.7 204.1,95.5 204.5,95.5 204.9,95.5 205.3,95.6 205.7,95.7 206.1,95.9 206.5,96.1 206.9,96.4 207.3,96.7 207.7,96.9 208.2,97.2 208.6,97.6 209.0,97.8 209.4,98.1 209.8,98.4 210.2,98.6 210.6,98.8 211.0,98.9 211.4,99.0 211.8,99.0 212.2,99.0 212.6,98.9 213.0,98.8 213.5,98.7 213.9,98.6 214.3,98.4 214.7,98.2 215.1,98.1 215.5,97.9 215.9,97.7 216.3,97.6 216.8,97.5 217.2,97.4 217.6,97.3 218.0,97.3 218.4,97.3 218.8,97.4 219.2,97.5 219.6,97.7 220.0,97.9 220.4,98.1 220.8,98.4 221.2,98.6 221.7,98.9 222.1,99.2 222.5,99.4 222.9,99.6 223.3,99.8 223.7,99.9 224.1,100.0 224.5,100.0 224.9,100.0 225.3,99.8 225.7,99.6 226.1,99.3 226.5,99.0 226.9,98.6 227.3,98.2 227.8,97.8 228.2,97.3 228.6,96.9 229.0,96.5 229.4,96.2 229.8,95.9 230.2,95.7 230.6,95.5 231.0,95.5 231.4,95.5 231.8,95.7 232.2,95.8 232.6,96.1 233.1,96.4 233.5,96.7 233.9,97.1 234.3,97.5 234.7,98.0 235.1,98.4 235.5,98.8 235.9,99.1 236.4,99.4 236.8,99.7 237.2,99.8 237.6,100.0 238.0,100.0 238.4,100.0 238.8,99.9 239.2,99.8 239.7,99.6 240.1,99.4 240.5,99.1 240.9,98.8 241.3,98.5 241.8,98.2 242.2,97.9 242.6,97.6 243.0,97.3 243.4,97.0 243.8,96.8 244.2,96.6 244.7,96.5 245.1,96.4 245.5,96.4" fill="none" stroke="#0072BD" stroke-width="1.75" stroke-linejoin="round" stroke-linecap="butt"/>
<polyline points="26.3,139.4 26.7,139.4 27.2,139.4 27.6,139.5 28.0,139.5 28.4,139.6 28.9,139.6 29.3,139.7 29.7,139.7 30.1,139.8 30.6,139.8 31.0,139.8 31.4,139.8 31.8,139.7 32.2,139.6 32.6,139.5 33.0,139.3 33.4,139.1 33.8,139.0 34.2,138.9 34.6,138.8 35.0,138.8 35.4,138.8 35.8,138.9 36.2,138.9 36.7,139.1 37.1,139.2 37.5,139.3 37.9,139.4 38.3,139.6 38.8,139.7 39.2,139.7 39.6,139.8 40.0,139.8 40.4,139.8 40.8,139.7 41.2,139.6 41.6,139.5 42.0,139.4 42.4,139.3 42.8,139.2 43.2,139.1 43.6,139.0 44.0,139.0 44.4,139.0 44.8,139.1 45.2,139.2 45.6,139.4 46.0,139.6 46.4,139.8 46.8,140.0 47.2,140.1 47.6,140.2 48.0,140.2 48.4,140.2 48.8,140.1 49.2,140.0 49.6,139.9 50.0,139.7 50.4,139.5 50.8,139.4 51.2,139.3 51.6,139.2 52.0,139.2 52.4,139.2 52.8,139.3 53.2,139.4 53.6,139.5 54.0,139.6 54.4,139.7 54.8,139.8 55.2,139.9 55.6,140.0 56.0,140.0 56.4,140.0 56.8,139.9 57.2,139.8 57.6,139.7 58.0,139.5 58.4,139.3 58.8,139.2 59.2,139.1 59.6,139.0 60.0,139.0 60.4,139.0 60.8,139.1 61.2,139.2 61.6,139.3 62.0,139.4 62.4,139.5 62.8,139.6 63.2,139.7 63.6,139.8 64.0,139.8 64.4,139.8 64.8,139.7 65.2,139.7 65.6,139.6 66.0,139.5 66.4,139.4 66.8,139.3 67.2,139.3 67.6,139.2 68.0,139.2 68.4,139.2 68.8,139.2 69.2,139.3 69.6,139.3 70.0,139.4 70.4,139.4 70.9,110.0 71.5,88.0 72.0,84.0 72.4,80.0 72.8,80.9 73.3,83.4 73.7,87.1 74.1,91.1 74.5,94.8 75.0,97.3 75.4,98.2 75.8,98.0 76.2,97.4 76.7,96.5 77.1,95.2 77.5,93.7 77.9,91.9 78.4,89.9 78.8,87.9 79.2,85.7 79.6,83.7 80.1,81.7 80.5,79.9 80.9,78.4 81.3,77.1 81.8,76.2 82.2,75.6 82.6,75.4 83.0,75.5 83.4,76.0 83.8,76.7 84.2,77.7 84.6,78.9 85.0,80.3 85.4,81.8 85.8,83.6 86.2,85.4 86.6,87.2 87.0,89.0 87.4,90.8 87.8,92.6 88.2,94.1 88.6,95.5 89.0,96.7 89.4,97.7 89.8,98.4 90.2,98.9 90.6,99.0 91.0,98.9 91.4,98.5 91.8,97.8 92.2,96.9 92.7,95.8 93.1,94.6 93.5,93.2 93.9,91.7 94.3,90.3 94.7,88.8 95.1,87.4 95.5,86.2 96.0,85.1 96.4,84.2 96.8,83.5 97.2,83.1 97.6,83.0 98.0,83.1 98.4,83.4 98.8,83.9 99.3,84.5 99.7,85.3 100.1,86.3 100.5,87.3 100.9,88.5 101.3,89.7 101.8,91.0 102.2,92.2 102.6,93.4 103.0,94.6 103.4,95.6 103.8,96.6 104.2,97.4 104.7,98.0 105.1,98.5 105.5,98.8 105.9,98.9 106.3,98.8 106.7,98.5 107.1,98.1 107.6,97.5 108.0,96.7 108.4,95.8 108.8,94.9 109.2,94.0 109.6,93.0 110.0,92.1 110.4,91.2 110.8,90.4 111.3,89.8 111.7,89.4 112.1,89.1 112.5,89.0 112.9,89.1 113.3,89.3 113.7,89.6 114.1,90.0 114.5,90.6 114.9,91.2 115.3,91.9 115.7,92.7 116.1,93.5 116.5,94.3 116.9,95.1 117.3,95.9 117.7,96.7 118.1,97.4 118.5,98.0 118.9,98.6 119.3,99.0 119.7,99.3 120.1,99.5 120.5,99.6 120.9,99.6 121.3,99.4 121.7,99.2 122.1,98.9 122.5,98.6 122.9,98.1 123.3,97.7 123.7,97.2 124.1,96.7 124.5,96.2 124.9,95.7 125.3,95.2 125.7,94.8 126.1,94.5 126.5,94.2 126.9,94.0 127.3,93.8 127.7,93.8 128.1,93.8 128.5,93.9 128.9,94.0 129.3,94.2 129.7,94.4 130.1,94.7 130.5,94.9 130.9,95.3 131.3,95.6 131.7,96.0 132.1,96.4 132.5,96.8 132.9,97.2 133.4,97.7 133.8,98.1 134.2,98.5 134.6,98.9 135.0,99.3 135.4,99.6 135.8,100.0 136.2,100.2 136.6,100.5 137.0,100.7 137.4,100.9 137.8,101.0 138.2,101.1 138.6,101.1 139.0,101.1 139.4,101.0 139.8,100.9 140.2,100.7 140.7,100.5 141.1,100.2 141.5,100.0 141.9,99.7 142.3,99.4 142.7,99.1 143.1,98.8 143.5,98.5 143.9,98.3 144.4,98.1 144.8,97.9 145.2,97.8 145.6,97.7 146.0,97.7 146.4,97.8 146.8,98.0 147.2,98.3 147.7,98.7 148.1,99.2 148.5,99.8 148.9,100.3 149.3,100.8 149.8,101.2 150.2,101.5 150.6,101.7 151.0,101.8 151.4,101.8 151.8,101.6 152.2,101.4 152.7,101.1 153.1,100.8 153.5,100.3 153.9,99.9 154.3,99.5 154.7,99.1 155.1,98.6 155.5,98.3 156.0,98.0 156.4,97.8 156.8,97.6 157.2,97.6 157.6,97.6 158.0,97.8 158.4,98.0 158.8,98.3 159.3,98.7 159.7,99.1 160.1,99.5 160.5,100.0 160.9,100.5 161.3,101.1 161.7,101.6 162.1,102.0 162.5,102.4 163.0,102.8 163.4,103.1 163.8,103.3 164.2,103.5 164.6,103.5 165.0,103.4 165.4,103.2 165.8,102.9 166.2,102.5 166.6,102.0 167.0,101.4 167.4,100.9 167.9,100.3 168.3,99.7 168.7,99.2 169.1,98.8 169.5,98.5 169.9,98.3 170.3,98.2 170.7,98.2 171.1,98.3 171.5,98.5 171.9,98.7 172.4,99.0 172.8,99.3 173.2,99.7 173.6,100.0 174.0,100.4 174.4,100.7 174.8,101.1 175.2,101.4 175.7,101.7 176.1,101.9 176.5,102.1 176.9,102.2 177.3,102.2 177.7,102.2 178.1,102.1 178.6,101.9 179.0,101.7 179.4,101.5 179.8,101.2 180.3,100.9 180.7,100.5 181.1,100.2 181.5,99.8 182.0,99.5 182.4,99.2 182.8,99.0 183.2,98.8 183.7,98.6 184.1,98.5 184.5,98.5 184.9,98.5 185.3,98.7 185.7,98.9 186.1,99.2 186.5,99.5 186.9,99.9 187.3,100.3 187.8,100.8 188.2,101.2 188.6,101.6 189.0,102.0 189.4,102.3 189.8,102.6 190.2,102.8 190.6,103.0 191.0,103.0 191.4,103.0 191.8,102.8 192.2,102.6 192.7,102.2 193.1,101.8 193.5,101.4 193.9,100.9 194.3,100.4 194.7,99.9 195.1,99.4 195.5,99.0 195.9,98.6 196.4,98.2 196.8,98.0 197.2,97.8 197.6,97.8 198.0,97.8 198.4,97.9 198.8,98.1 199.2,98.3 199.6,98.5 200.0,98.8 200.4,99.1 200.8,99.5 201.3,99.8 201.7,100.2 202.1,100.5 202.5,100.8 202.9,101.0 203.3,101.2 203.7,101.4 204.1,101.5 204.5,101.5 204.9,101.5 205.3,101.4 205.7,101.3 206.1,101.1 206.5,100.9 206.9,100.7 207.3,100.4 207.7,100.1 208.2,99.9 208.6,99.6 209.0,99.3 209.4,99.0 209.8,98.8 210.2,98.6 210.6,98.4 211.0,98.3 211.4,98.2 211.8,98.2 212.2,98.2 212.6,98.4 213.0,98.6 213.5,98.9 213.9,99.2 214.3,99.6 214.7,100.0 215.1,100.4 215.5,100.8 215.9,101.2 216.3,101.5 216.8,101.8 217.2,102.0 217.6,102.2 218.0,102.2 218.4,102.2 218.8,102.1 219.2,101.9 219.6,101.7 220.0,101.5 220.4,101.2 220.8,100.9 221.2,100.6 221.7,100.3 222.1,100.0 222.5,99.7 222.9,99.5 223.3,99.3 223.7,99.1 224.1,99.0 224.5,99.0 224.9,99.0 225.3,99.1 225.7,99.3 226.1,99.5 226.5,99.8 226.9,100.1 227.3,100.5 227.8,100.8 228.2,101.2 228.6,101.6 229.0,101.9 229.4,102.2 229.8,102.4 230.2,102.6 230.6,102.7 231.0,102.7 231.4,102.7 231.8,102.5 232.2,102.4 232.6,102.1 233.1,101.8 233.5,101.5 233.9,101.1 234.3,100.7 234.7,100.2 235.1,99.8 235.5,99.4 235.9,99.1 236.4,98.8 236.8,98.5 237.2,98.4 237.6,98.2 238.0,98.2 238.4,98.2 238.8,98.3 239.2,98.5 239.7,98.7 240.1,99.0 240.5,99.3 240.9,99.7 241.3,100.1 241.8,100.5 242.2,100.8 242.6,101.2 243.0,101.6 243.4,101.9 243.8,102.2 244.2,102.4 244.7,102.6 245.1,102.7 245.5,102.7" fill="none" stroke="#D95319" stroke-width="1.75" stroke-linejoin="round" stroke-linecap="butt"/>
<polyline points="26.3,95.7 70.6,95.7 71.2,60.0 71.6,24.0 72.1,23.0 72.5,21.0 73.0,20.0 73.4,20.0 73.8,20.0 74.2,20.0 74.7,20.0 75.1,20.0 75.5,19.9 75.9,19.9 76.3,19.9 76.8,19.9 77.2,19.9 77.6,19.9 78.0,19.9 78.4,19.9 78.8,20.0 79.2,20.0 79.7,20.1 80.1,20.2 80.5,20.3 80.9,20.5 81.3,20.6 81.8,20.7 82.2,20.7 82.6,20.8 83.0,20.8 83.4,20.8 83.8,20.8 84.2,20.7 84.6,20.6 85.0,20.5 85.5,20.4 85.9,20.3 86.3,20.1 86.7,20.0 87.1,19.8 87.5,19.7 87.9,19.5 88.3,19.3 88.7,19.2 89.1,19.0 89.5,18.9 90.0,18.8 90.4,18.7 90.8,18.6 91.2,18.5 91.6,18.5 92.0,18.5 92.4,18.5 92.8,18.6 93.2,18.6 93.6,18.7 94.1,18.8 94.5,18.9 94.9,19.0 95.3,19.2 95.7,19.3 96.1,19.5 96.5,19.6 96.9,19.7 97.4,19.8 97.8,19.9 98.2,19.9 98.6,20.0 99.0,20.0 99.4,20.0 99.8,20.0 100.2,20.0 100.6,19.9 101.0,19.9 101.5,19.8 101.9,19.7 102.3,19.7 102.7,19.6 103.1,19.5 103.5,19.4 103.9,19.4 104.3,19.3 104.7,19.2 105.1,19.2 105.5,19.1 106.0,19.0 106.4,19.0 106.8,18.9 107.2,18.9 107.6,18.9 108.0,18.9 108.4,18.9 108.8,18.9 109.2,19.0 109.6,19.0 110.0,19.0 110.4,19.1 110.8,19.2 111.2,19.2 111.6,19.3 112.0,19.3 112.4,19.4 112.8,19.4 113.2,19.5 113.6,19.5 114.0,19.5 114.4,19.5 114.8,19.5 115.2,19.5 115.6,19.5 116.0,19.4 116.4,19.4 116.8,19.4 117.2,19.3 117.6,19.3 118.0,19.2 118.4,19.2 118.8,19.2 119.2,19.1 119.6,19.1 120.0,19.1 120.4,19.0 120.8,19.0 121.2,19.0 121.6,19.0 122.0,19.0 122.4,19.0 122.8,19.0 123.2,19.0 123.6,19.0 124.0,19.0 124.4,19.1 124.8,19.1 125.2,19.1 125.6,19.1 126.0,19.2 126.4,19.2 126.8,19.2 127.2,19.3 127.6,19.3 128.0,19.3 128.4,19.4 128.8,19.4 129.2,19.4 129.6,19.4 130.0,19.5 130.4,19.5 130.8,19.5 131.2,19.5 131.6,19.5 132.0,19.5 132.4,19.5 132.8,19.5 133.2,19.5 133.6,19.5 134.0,19.5 134.4,19.4 134.8,19.4 135.2,19.4 135.6,19.4 136.0,19.3 136.4,19.3 136.8,19.3 137.2,19.2 137.6,19.2 138.0,19.2 138.4,19.1 138.8,19.1 139.2,19.1 139.6,19.1 140.0,19.0 140.4,19.0 140.8,19.0 141.2,19.0 141.6,19.0 142.0,19.0 142.4,19.0 142.8,19.0 143.2,19.0 143.6,19.0 144.0,19.0 144.4,19.1 144.8,19.1 145.2,19.1 145.6,19.1 146.0,19.1 146.4,19.2 146.8,19.2 147.2,19.2 147.6,19.2 148.0,19.3 148.4,19.3 148.8,19.3 149.2,19.3 149.6,19.3 150.0,19.4 150.4,19.4 150.8,19.4 151.2,19.4 151.6,19.4 152.0,19.4 152.4,19.4 152.8,19.4 153.2,19.4 153.6,19.4 154.0,19.4 154.4,19.4 154.8,19.4 155.2,19.3 155.7,19.3 156.1,19.3 156.5,19.3 156.9,19.3 157.3,19.3 157.7,19.2 158.1,19.2 158.5,19.2 158.9,19.2 159.3,19.2 159.7,19.1 160.1,19.1 160.5,19.1 160.9,19.1 161.3,19.1 161.8,19.1 162.2,19.0 162.6,19.0 163.0,19.0 163.4,19.0 163.8,19.0 164.2,19.0 164.6,19.0 165.0,19.0 165.4,19.0 165.8,19.0 166.2,19.0 166.6,19.0 167.0,19.0 167.4,19.0 167.8,19.0 168.2,19.0 168.6,19.0 169.1,19.0 169.5,19.0 169.9,19.0 170.3,19.1 170.7,19.1 171.1,19.1 171.5,19.1 171.9,19.1 172.3,19.1 172.7,19.1 173.1,19.1 173.5,19.1 173.9,19.1 174.3,19.1 174.7,19.1 175.1,19.2 175.5,19.2 175.9,19.2 176.4,19.2 176.8,19.2 177.2,19.2 177.6,19.2 178.0,19.2 178.4,19.2 178.8,19.2 179.2,19.2 179.6,19.2 180.0,19.2 180.4,19.2 180.8,19.2 181.2,19.2 181.6,19.2 182.0,19.2 182.4,19.2 182.8,19.2 183.2,19.2 183.6,19.2 184.0,19.2 184.4,19.2 184.8,19.2 185.2,19.2 185.6,19.1 186.0,19.1 186.4,19.1 186.8,19.1 187.2,19.1 187.6,19.1 188.0,19.1 188.4,19.1 188.8,19.1 189.2,19.1 189.6,19.1 190.0,19.1 190.4,19.0 190.8,19.0 191.2,19.0 191.6,19.0 192.0,19.0 192.4,19.0 192.8,19.0 193.2,19.0 193.6,19.0 194.0,19.0 194.4,19.0 194.8,18.9 195.2,18.9 195.6,18.9 196.0,18.9 196.4,18.9 196.8,18.9 197.2,18.9 197.6,18.9 198.0,18.9 198.4,18.9 198.8,18.9 199.2,18.9 199.6,18.9 200.0,18.9 200.4,18.9 200.8,18.9 201.2,18.9 201.6,18.9 202.0,18.9 202.4,18.9 202.8,18.9 203.2,18.9 203.6,18.9 204.0,18.9 204.4,18.9 204.8,18.9 205.2,18.9 205.6,18.9 206.0,18.9 206.4,18.9 206.8,18.9 207.2,18.9 207.6,18.9 208.0,18.9 208.4,18.9 208.8,18.9 209.2,18.9 209.6,18.9 210.0,18.9 210.4,18.9 210.8,18.9 211.2,18.9 211.6,18.9 212.0,18.9 212.4,18.9 212.8,18.9 213.2,18.9 213.6,18.9 214.0,18.9 214.4,18.9 214.8,18.9 215.2,18.9 215.6,18.9 216.0,18.9 216.4,18.9 216.8,18.9 217.2,18.9 217.6,18.9 218.0,18.9 218.4,18.9 218.8,18.9 219.2,18.9 219.6,18.9 220.0,18.9 220.4,18.9 220.8,18.9 221.2,18.9 221.6,18.9 222.0,18.9 222.4,18.9 222.8,18.9 223.2,18.9 223.6,18.9 224.0,18.9 224.5,18.9 224.9,18.9 225.3,18.9 225.7,18.9 226.1,18.8 226.5,18.8 226.9,18.8 227.3,18.8 227.7,18.8 228.1,18.8 228.5,18.8 228.9,18.8 229.3,18.8 229.7,18.8 230.1,18.8 230.5,18.8 230.9,18.7 231.3,18.7 231.7,18.7 232.1,18.7 232.5,18.7 233.0,18.7 233.4,18.7 233.8,18.7 234.2,18.7 234.6,18.7 235.0,18.6 235.4,18.6 235.8,18.6 236.2,18.6 236.6,18.6 237.0,18.6 237.4,18.6 237.8,18.6 238.2,18.6 238.6,18.6 239.0,18.6 239.4,18.6 239.8,18.5 240.2,18.5 240.6,18.5 241.0,18.5 241.5,18.5 241.9,18.5 242.3,18.5 242.7,18.5 243.1,18.5 243.5,18.5 243.9,18.5 244.3,18.5 244.7,18.5 245.1,18.5 245.5,18.5" fill="none" stroke="#EDB120" stroke-width="1.9" stroke-linejoin="round" stroke-linecap="butt"/>
</g>
<path d="M26.5 7.0H245.4V179.3" fill="none" stroke="#a6a6a6" stroke-width="1"/>
<path d="M26.5 7.0V179.3H245.4" fill="none" stroke="#7c7c7c" stroke-width="1"/>
<path d="M26.3 179.3v-2.2M26.3 7.0v2.2M48.2 179.3v-2.2M48.2 7.0v2.2M70.1 179.3v-2.2M70.1 7.0v2.2M92.0 179.3v-2.2M92.0 7.0v2.2M113.9 179.3v-2.2M113.9 7.0v2.2M135.9 179.3v-2.2M135.9 7.0v2.2M157.8 179.3v-2.2M157.8 7.0v2.2M179.7 179.3v-2.2M179.7 7.0v2.2M201.6 179.3v-2.2M201.6 7.0v2.2M223.5 179.3v-2.2M223.5 7.0v2.2M245.5 179.3v-2.2M245.5 7.0v2.2M26.5 179.4h2.2M245.4 179.4h-2.2M26.5 162.2h2.2M245.4 162.2h-2.2M26.5 144.9h2.2M245.4 144.9h-2.2M26.5 127.7h2.2M245.4 127.7h-2.2M26.5 110.5h2.2M245.4 110.5h-2.2M26.5 93.2h2.2M245.4 93.2h-2.2M26.5 76.0h2.2M245.4 76.0h-2.2M26.5 58.8h2.2M245.4 58.8h-2.2M26.5 41.6h2.2M245.4 41.6h-2.2M26.5 24.3h2.2M245.4 24.3h-2.2M26.5 7.1h2.2M245.4 7.1h-2.2" fill="none" stroke="#808080" stroke-width="0.8"/>
<text x="26.3" y="189.3" text-anchor="middle" font-size="6.4">-0.02</text>
<text x="48.2" y="189.3" text-anchor="middle" font-size="6.4">-0.01</text>
<text x="70.1" y="189.3" text-anchor="middle" font-size="6.4">0</text>
<text x="92.0" y="189.3" text-anchor="middle" font-size="6.4">0.01</text>
<text x="113.9" y="189.3" text-anchor="middle" font-size="6.4">0.02</text>
<text x="135.9" y="189.3" text-anchor="middle" font-size="6.4">0.03</text>
<text x="157.8" y="189.3" text-anchor="middle" font-size="6.4">0.04</text>
<text x="179.7" y="189.3" text-anchor="middle" font-size="6.4">0.05</text>
<text x="201.6" y="189.3" text-anchor="middle" font-size="6.4">0.06</text>
<text x="223.5" y="189.3" text-anchor="middle" font-size="6.4">0.07</text>
<text x="245.5" y="189.3" text-anchor="middle" font-size="6.4">0.08</text>
<text x="23.3" y="182.2" text-anchor="end" font-size="6.4">0</text>
<text x="23.3" y="165.0" text-anchor="end" font-size="6.4">0.5</text>
<text x="23.3" y="147.7" text-anchor="end" font-size="6.4">1</text>
<text x="23.3" y="130.5" text-anchor="end" font-size="6.4">1.5</text>
<text x="23.3" y="113.3" text-anchor="end" font-size="6.4">2</text>
<text x="23.3" y="96.0" text-anchor="end" font-size="6.4">2.5</text>
<text x="23.3" y="78.8" text-anchor="end" font-size="6.4">3</text>
<text x="23.3" y="61.6" text-anchor="end" font-size="6.4">3.5</text>
<text x="23.3" y="44.4" text-anchor="end" font-size="6.4">4</text>
<text x="23.3" y="27.1" text-anchor="end" font-size="6.4">4.5</text>
<text x="23.3" y="9.9" text-anchor="end" font-size="6.4">5</text>
<text x="135.9" y="198.6" text-anchor="middle" font-size="7.35">time (s)</text>
<text transform="translate(10.0 94.0) rotate(-90)" text-anchor="middle" font-size="7.35">grid-side currents (A)</text>
<rect x="194.5" y="12.5" width="45.0" height="69.0" fill="#fff" stroke="#6e6e6e" stroke-width="1"/>
<line x1="197.1" y1="18.8" x2="216.7" y2="18.8" stroke="#7E2F8E" stroke-width="1.8"/>
<text transform="translate(218.7 20.7) scale(0.92 1)" font-size="6.4" style="stroke-width:0.2px">I<tspan dy="2.2" font-size="5.1">2</tspan><tspan dy="-2.2" dx="0.9"> </tspan>sim.</text>
<line x1="197.1" y1="30.2" x2="216.7" y2="30.2" stroke="#77AC30" stroke-width="1.8"/>
<text transform="translate(218.7 32.1) scale(0.92 1)" font-size="6.4" style="stroke-width:0.2px">I<tspan dy="2.2" font-size="5.1">d</tspan><tspan dy="-2.2" dx="0.9"> </tspan>sim.</text>
<line x1="197.1" y1="41.5" x2="216.7" y2="41.5" stroke="#4DBEEE" stroke-width="1.8"/>
<text transform="translate(218.7 43.4) scale(0.92 1)" font-size="6.4" style="stroke-width:0.2px">I<tspan dy="2.2" font-size="5.1">R</tspan><tspan dy="-2.2" dx="0.9"> </tspan>sim.</text>
<line x1="197.1" y1="52.9" x2="216.7" y2="52.9" stroke="#0072BD" stroke-width="1.8"/>
<text transform="translate(218.7 54.8) scale(0.92 1)" font-size="6.4" style="stroke-width:0.2px">I<tspan dy="2.2" font-size="5.1">2</tspan><tspan dy="-2.2" dx="0.9"> </tspan>exp.</text>
<line x1="197.1" y1="64.2" x2="216.7" y2="64.2" stroke="#D95319" stroke-width="1.8"/>
<text transform="translate(218.7 66.1) scale(0.92 1)" font-size="6.4" style="stroke-width:0.2px">I<tspan dy="2.2" font-size="5.1">d</tspan><tspan dy="-2.2" dx="0.9"> </tspan>exp.</text>
<line x1="197.1" y1="75.5" x2="216.7" y2="75.5" stroke="#EDB120" stroke-width="1.8"/>
<text transform="translate(218.7 77.4) scale(0.92 1)" font-size="6.4" style="stroke-width:0.2px">I<tspan dy="2.2" font-size="5.1">R</tspan><tspan dy="-2.2" dx="0.9"> </tspan>exp.</text>
<text transform="translate(130.5 219.3) scale(0.95 1)" text-anchor="middle" font-family="Liberation Serif, serif" font-size="13.4" fill="#111" style="stroke:none">(<tspan font-weight="bold">a</tspan>)</text>
<clipPath id="cb"><rect x="321.9" y="7.0" width="219.1" height="172.3"/></clipPath>
<path d="M343.5 76.0V179.3M365.5 76.0V179.3M387.5 76.0V179.3M409.5 76.0V179.3M453.5 76.0V179.3M475.5 76.0V179.3M518.5 7.0V76.0" fill="none" stroke="#9e9e9e" stroke-width="0.9"/>
<path d="M321.9 75.5H541.0M321.9 110.5H475.2M321.9 144.5H475.2" fill="none" stroke="#a6a6a6" stroke-width="0.9"/>
<g clip-path="url(#cb)">
<polyline points="321.8,122.6 366.6,122.6 367.6,121.0 368.0,114.7 368.4,105.9 368.8,95.0 369.2,82.8 369.6,70.2 370.1,58.1 370.5,47.6 370.9,39.3 371.3,34.1 371.7,32.3 372.1,34.0 372.5,39.1 372.9,47.2 373.3,57.9 373.7,70.5 374.1,84.5 374.6,99.0 375.0,113.2 375.4,126.4 375.8,138.0 376.2,147.5 376.6,154.4 377.0,146.4 377.4,135.5 377.8,122.1 378.2,106.8 378.6,90.3 379.1,73.6 379.5,57.5 379.9,42.8 380.3,30.5 380.7,21.1 381.1,15.3 381.5,13.3 381.9,14.8 382.3,19.3 382.7,26.6 383.1,36.3 383.5,47.9 383.9,60.9 384.4,74.7 384.8,88.6 385.2,102.0 385.6,114.4 386.0,125.2 386.4,134.0 386.8,140.6 387.2,135.3 387.6,128.2 388.1,119.5 388.5,109.6 388.9,98.8 389.3,87.6 389.8,76.5 390.2,66.0 390.6,56.7 391.0,48.9 391.5,43.1 391.9,39.4 392.3,38.2 392.7,39.2 393.1,42.2 393.5,47.1 393.9,53.4 394.3,61.0 394.8,69.3 395.2,77.9 395.6,86.4 396.0,94.2 396.4,101.1 396.8,106.8 397.2,110.9 397.6,108.1 398.0,104.2 398.4,99.4 398.8,94.0 399.2,88.1 399.6,82.2 400.1,76.4 400.5,71.2 400.9,66.8 401.3,63.5 401.7,61.4 402.1,60.7 402.5,61.1 402.9,62.2 403.4,64.1 403.8,66.6 404.2,69.6 404.6,72.9 405.1,76.4 405.5,80.0 405.9,83.4 406.3,86.6 406.8,89.4 407.2,91.6 407.6,93.3 408.0,91.6 408.5,89.2 408.9,86.2 409.3,82.9 409.8,79.5 410.2,76.2 410.6,73.3 411.0,71.1 411.5,69.7 411.9,69.2 412.3,69.4 412.7,70.0 413.1,70.9 413.6,72.1 414.0,73.6 414.4,75.3 414.8,77.0 415.2,78.8 415.6,80.5 416.1,82.1 416.5,83.4 416.9,84.6 417.3,85.4 417.7,84.6 418.1,83.5 418.5,82.2 418.9,80.7 419.3,79.1 419.8,77.4 420.2,75.9 420.6,74.4 421.0,73.2 421.4,72.3 421.8,71.7 422.2,71.5 422.6,71.6 423.0,72.0 423.4,72.7 423.8,73.5 424.2,74.5 424.6,75.6 425.0,76.7 425.4,77.8 425.8,78.8 426.2,79.7 426.6,80.5 427.0,81.0 427.4,80.6 427.8,80.0 428.2,79.3 428.6,78.5 429.0,77.6 429.4,76.8 429.8,75.9 430.2,75.1 430.6,74.5 431.0,74.0 431.4,73.7 431.8,73.6 432.2,73.7 432.7,73.9 433.1,74.3 433.5,74.9 434.0,75.5 434.4,76.2 434.8,76.9 435.3,77.6 435.7,78.2 436.1,78.8 436.6,79.3 437.0,79.6 437.4,79.3 437.9,78.9 438.3,78.4 438.7,77.8 439.2,77.1 439.6,76.5 440.0,75.9 440.5,75.3 440.9,74.9 441.3,74.5 441.8,74.3 442.2,74.2 442.6,74.2 443.1,74.4 443.5,74.6 443.9,74.9 444.3,75.3 444.8,75.7 445.2,76.1 445.6,76.5 446.0,76.8 446.4,77.1 446.9,77.4 447.3,77.6 447.7,77.4 448.2,77.2 448.6,76.9 449.0,76.5 449.4,76.2 449.9,75.8 450.3,75.5 450.7,75.2 451.1,75.0 451.6,74.8 452.0,74.8 452.4,74.8 452.8,74.9 453.2,75.0 453.7,75.1 454.1,75.3 454.5,75.4 454.9,75.6 455.3,75.8 455.8,76.0 456.2,76.1 456.6,76.2 457.0,76.3 457.4,76.2 457.8,76.2 458.2,76.0 458.7,75.9 459.1,75.8 459.5,75.7 459.9,75.5 460.3,75.4 460.8,75.3 461.2,75.3 461.6,75.2 462.0,75.2 462.4,75.2 462.8,75.2 463.2,75.2 463.6,75.2 464.0,75.2 464.4,75.3 464.8,75.3 465.2,75.3 465.6,75.3 466.0,75.4 466.4,75.4 466.8,75.4 467.2,75.5 467.6,75.5 468.0,75.5 468.4,75.5 468.8,75.6 469.2,75.6 469.6,75.6 470.0,75.6 470.4,75.6 470.8,75.6 471.2,75.6 471.6,75.6 472.0,75.5 472.4,75.5 472.8,75.5 473.2,75.5 473.6,75.5 474.0,75.5 474.4,75.4 474.8,75.4 475.2,75.4 475.6,75.4 476.0,75.4 476.4,75.3 476.8,75.3 477.2,75.3 477.6,75.3 478.0,75.3 478.4,75.2 478.8,75.2 479.2,75.2 479.6,75.2 480.0,75.1 480.4,75.1 480.8,75.1 481.2,75.1 481.6,75.1 482.0,75.0 482.4,75.0 482.8,75.0 483.2,75.0 483.6,75.0 484.0,74.9 484.4,74.9 484.8,74.9 485.2,74.9 485.6,74.9 486.0,74.9 486.4,74.9 486.8,74.8 487.2,74.8 487.6,74.8 488.0,74.8 488.4,74.8 488.8,74.8 489.2,74.8 489.6,74.8 490.0,74.8 490.4,74.8 490.8,74.8 491.2,74.8 491.6,74.8 492.0,74.8 492.4,74.8 492.8,74.8 493.2,74.8 493.6,74.7 494.0,74.7 494.4,74.7 494.8,74.7 495.2,74.7 495.6,74.7 496.0,74.7 496.4,74.7 496.8,74.7 497.2,74.7 497.6,74.7 498.0,74.7 498.4,74.6 498.8,74.6 499.2,74.6 499.6,74.6 500.0,74.6 500.4,74.6 500.8,74.6 501.2,74.6 501.6,74.6 502.0,74.5 502.4,74.5 502.9,74.5 503.3,74.5 503.7,74.5 504.1,74.5 504.5,74.5 504.9,74.5 505.3,74.4 505.7,74.4 506.1,74.4 506.5,74.4 506.9,74.4 507.3,74.4 507.7,74.4 508.1,74.4 508.5,74.3 508.9,74.3 509.3,74.3 509.7,74.3 510.1,74.3 510.5,74.3 510.9,74.3 511.3,74.3 511.7,74.2 512.1,74.2 512.5,74.2 512.9,74.2 513.3,74.2 513.7,74.2 514.1,74.2 514.5,74.1 514.9,74.1 515.3,74.1 515.7,74.1 516.1,74.1 516.5,74.1 516.9,74.1 517.3,74.1 517.7,74.0 518.1,74.0 518.5,74.0 518.9,74.0 519.3,74.0 519.7,74.0 520.1,74.0 520.5,74.0 520.9,73.9 521.3,73.9 521.7,73.9 522.1,73.9 522.5,73.9 522.9,73.9 523.3,73.9 523.7,73.9 524.1,73.8 524.5,73.8 524.9,73.8 525.3,73.8 525.7,73.8 526.1,73.8 526.5,73.8 526.9,73.8 527.3,73.8 527.7,73.8 528.1,73.7 528.6,73.7 529.0,73.7 529.4,73.7 529.8,73.7 530.2,73.7 530.6,73.7 531.0,73.7 531.4,73.7 531.8,73.7 532.2,73.7 532.6,73.7 533.0,73.7 533.4,73.7 533.8,73.6 534.2,73.6 534.6,73.6 535.0,73.6 535.4,73.6 535.8,73.6 536.2,73.6 536.6,73.6 537.0,73.6 537.4,73.6 537.8,73.6 538.2,73.6 538.6,73.6 539.0,73.6 539.4,73.6 539.8,73.6 540.2,73.6 540.6,73.6 541.0,73.6" fill="none" stroke="#D95319" stroke-width="1.7" stroke-linejoin="round" stroke-linecap="butt"/>
<polyline points="321.8,113.6 322.2,113.6 322.7,113.5 323.1,113.5 323.5,113.5 323.9,113.4 324.4,113.4 324.8,113.3 325.2,113.3 325.6,113.2 326.1,113.2 326.5,113.2 326.9,113.2 327.3,113.3 327.7,113.3 328.1,113.4 328.5,113.5 328.9,113.6 329.3,113.8 329.7,113.9 330.1,114.0 330.5,114.2 330.9,114.3 331.3,114.4 331.7,114.5 332.1,114.6 332.5,114.6 332.9,114.4 333.4,114.1 333.8,113.7 334.2,113.2 334.6,112.7 335.1,112.2 335.5,111.8 335.9,111.5 336.4,111.3 336.8,111.2 337.3,111.3 337.7,111.5 338.2,111.8 338.6,112.1 339.1,112.5 339.5,112.7 340.0,112.9 340.4,112.9 340.9,113.0 341.3,113.1 341.7,113.2 342.1,113.3 342.5,113.4 343.0,113.5 343.4,113.5 343.8,113.5 344.2,113.6 344.6,113.8 345.1,113.9 345.5,114.2 345.9,114.4 346.3,114.7 346.7,114.9 347.1,115.2 347.6,115.4 348.0,115.6 348.4,115.7 348.8,115.8 349.2,115.6 349.6,115.4 350.0,115.1 350.4,114.7 350.8,114.3 351.2,113.8 351.6,113.4 352.1,112.9 352.5,112.4 352.9,112.0 353.3,111.5 353.7,111.2 354.1,110.9 354.5,110.7 354.9,110.5 355.3,110.5 355.7,110.5 356.1,110.6 356.5,110.8 356.9,111.0 357.3,111.2 357.7,111.5 358.1,111.8 358.6,112.1 359.0,112.4 359.4,112.7 359.8,112.9 360.2,113.1 360.6,113.3 361.0,113.4 361.4,113.4 361.8,113.5 362.2,113.6 362.6,113.7 363.0,113.8 363.4,114.0 363.9,114.2 364.3,114.3 364.7,114.5 365.1,114.6 365.5,114.7 365.9,114.8 366.3,114.9 366.8,113.9 367.3,113.0 367.7,111.0 368.1,108.1 368.5,104.3 368.9,99.8 369.3,94.7 369.7,89.2 370.1,83.5 370.5,77.8 370.9,72.4 371.3,67.4 371.7,62.9 372.1,59.3 372.5,56.6 372.9,55.0 373.3,54.4 373.7,55.1 374.1,57.0 374.5,60.2 374.9,64.4 375.3,69.4 375.7,75.2 376.1,81.3 376.6,87.6 377.0,93.7 377.4,99.4 377.8,104.5 378.2,108.8 378.6,112.2 379.0,114.4 379.4,112.9 379.8,110.8 380.3,108.2 380.7,105.1 381.1,101.6 381.5,97.6 381.9,93.4 382.4,89.0 382.8,84.5 383.2,79.9 383.6,75.4 384.0,71.1 384.5,67.0 384.9,63.3 385.3,60.0 385.7,57.1 386.1,54.9 386.6,53.2 387.0,52.2 387.4,51.9 387.8,52.2 388.2,53.2 388.6,54.7 389.0,56.9 389.5,59.5 389.9,62.6 390.3,66.0 390.7,69.7 391.1,73.5 391.5,77.4 391.9,81.3 392.3,85.0 392.7,88.6 393.2,91.7 393.6,94.6 394.0,96.9 394.4,98.8 394.8,100.1 395.2,98.9 395.6,97.1 396.0,94.9 396.4,92.3 396.8,89.2 397.2,85.9 397.6,82.4 398.0,78.8 398.5,75.1 398.9,71.5 399.3,68.0 399.7,64.8 400.1,61.9 400.5,59.5 400.9,57.5 401.3,56.0 401.7,55.1 402.1,54.8 402.5,55.1 403.0,55.9 403.4,57.3 403.8,59.1 404.2,61.4 404.6,64.0 405.1,66.8 405.5,69.9 405.9,72.9 406.4,76.0 406.8,78.8 407.2,81.5 407.6,83.8 408.0,85.8 408.5,87.3 408.9,88.4 409.3,87.6 409.7,86.6 410.1,85.2 410.6,83.6 411.0,81.8 411.4,79.8 411.8,77.7 412.2,75.4 412.6,73.2 413.1,70.9 413.5,68.7 413.9,66.6 414.3,64.6 414.7,62.9 415.1,61.5 415.6,60.3 416.0,59.4 416.4,58.9 416.8,58.7 417.2,58.8 417.6,59.1 418.0,59.5 418.4,60.2 418.9,61.0 419.3,61.9 419.7,63.0 420.1,64.1 420.5,65.4 420.9,66.6 421.3,67.9 421.7,69.2 422.1,70.5 422.5,71.7 422.9,72.8 423.4,73.8 423.8,74.6 424.2,75.4 424.6,76.0 425.0,76.4 425.4,75.9 425.8,75.3 426.2,74.5 426.7,73.6 427.1,72.5 427.5,71.3 427.9,70.0 428.3,68.7 428.8,67.4 429.2,66.0 429.6,64.8 430.0,63.6 430.4,62.6 430.8,61.7 431.2,61.0 431.7,60.4 432.1,60.1 432.5,60.0 432.9,60.1 433.3,60.3 433.7,60.7 434.1,61.3 434.5,62.0 434.9,62.8 435.3,63.7 435.7,64.6 436.1,65.6 436.5,66.6 436.9,67.5 437.3,68.4 437.7,69.3 438.1,70.0 438.5,70.6 438.9,71.1 439.3,71.4 439.7,71.0 440.1,70.4 440.6,69.7 441.0,68.8 441.4,67.8 441.8,66.7 442.2,65.5 442.6,64.3 443.1,63.1 443.5,61.9 443.9,60.8 444.3,59.7 444.7,58.8 445.1,57.9 445.6,57.3 446.0,56.8 446.4,56.5 446.8,56.4 447.2,56.5 447.6,56.8 448.1,57.2 448.5,57.8 448.9,58.6 449.3,59.5 449.8,60.5 450.2,61.5 450.6,62.6 451.0,63.7 451.5,64.7 451.9,65.7 452.3,66.6 452.7,67.4 453.2,68.1 453.6,68.6 454.0,69.0 454.4,68.7 454.8,68.2 455.2,67.6 455.6,66.9 456.0,66.1 456.4,65.2 456.8,64.2 457.2,63.2 457.6,62.2 458.0,61.2 458.4,60.1 458.8,59.2 459.2,58.2 459.6,57.4 460.0,56.6 460.4,56.0 460.8,55.5 461.2,55.1 461.6,54.9 462.0,54.8 462.4,54.9 462.9,55.4 463.3,56.0 463.7,56.9 464.1,58.0 464.6,59.3 465.0,60.7 465.4,62.1 465.8,63.5 466.3,64.9 466.7,66.2 467.1,67.3 467.5,68.3 468.0,69.0 468.4,69.5 468.8,69.0 469.2,68.4 469.6,67.5 470.0,66.5 470.4,65.4 470.8,64.1 471.2,62.8 471.6,61.4 472.0,60.0 472.4,58.7 472.8,57.5 473.2,56.4 473.6,55.4 474.0,54.6 474.4,54.1 474.8,53.7 475.2,53.6 475.6,53.7 476.0,54.1 476.4,54.8 476.9,55.6 477.3,56.7 477.7,58.0 478.1,59.3 478.5,60.7 478.9,62.2 479.3,63.6 479.7,65.0 480.1,66.2 480.6,67.3 481.0,68.3 481.4,69.0 481.8,69.5 482.2,69.0 482.7,68.3 483.1,67.3 483.5,66.2 483.9,64.9 484.4,63.5 484.8,62.1 485.2,60.7 485.6,59.3 486.1,58.0 486.5,56.9 486.9,56.0 487.3,55.4 487.8,54.9 488.2,54.8 488.6,54.9 489.0,55.2 489.4,55.7 489.8,56.4 490.2,57.3 490.6,58.3 491.0,59.4 491.4,60.6 491.8,61.8 492.2,63.0 492.6,64.2 493.0,65.3 493.4,66.3 493.8,67.2 494.2,68.0 494.6,68.6 495.0,69.0 495.4,68.6 495.8,68.1 496.2,67.4 496.6,66.5 497.0,65.6 497.4,64.6 497.8,63.5 498.2,62.3 498.6,61.2 499.0,60.1 499.4,59.1 499.8,58.2 500.2,57.4 500.6,56.8 501.0,56.3 501.4,56.0 501.8,55.9 502.2,56.0 502.6,56.2 503.1,56.5 503.5,56.9 503.9,57.4 504.3,58.0 504.8,58.7 505.2,59.4 505.6,60.1 506.0,60.9 506.5,61.6 506.9,62.3 507.3,62.9 507.7,63.4 508.2,63.9 508.6,64.2 509.0,64.5 509.4,64.3 509.8,64.0 510.2,63.7 510.6,63.3 511.0,62.8 511.4,62.3 511.8,61.8 512.2,61.2 512.6,60.6 513.0,60.1 513.4,59.5 513.8,59.0 514.2,58.5 514.6,58.1 515.0,57.7 515.4,57.4 515.8,57.2 516.2,57.0 516.6,57.0 517.0,57.1 517.4,57.3 517.8,57.7 518.2,58.2 518.6,58.9 519.0,59.6 519.4,60.4 519.9,61.2 520.3,62.0 520.7,62.8 521.1,63.6 521.5,64.2 521.9,64.8 522.3,65.2 522.7,65.5 523.1,65.2 523.5,64.7 524.0,64.0 524.4,63.2 524.8,62.4 525.2,61.4 525.6,60.5 526.1,59.5 526.5,58.6 526.9,57.7 527.3,57.0 527.7,56.3 528.2,55.9 528.6,55.6 529.0,55.5 529.4,55.6 529.8,55.8 530.2,56.2 530.6,56.7 531.1,57.3 531.5,58.0 531.9,58.8 532.3,59.7 532.7,60.6 533.1,61.5 533.5,62.4 533.9,63.3 534.3,64.1 534.8,64.8 535.2,65.5 535.6,66.1 536.0,66.5 536.4,66.8 536.8,66.4 537.2,65.7 537.7,64.7 538.1,63.7 538.5,62.5 538.9,61.4 539.3,60.3 539.7,59.3 540.2,58.6 540.6,58.2 541.0,58.0" fill="none" stroke="#0072BD" stroke-width="1.75" stroke-linejoin="round" stroke-linecap="butt"/>
</g>
<path d="M321.9 7.0H541.0V179.3" fill="none" stroke="#a6a6a6" stroke-width="1"/>
<path d="M321.9 7.0V179.3H541.0" fill="none" stroke="#7c7c7c" stroke-width="1"/>
<path d="M321.8 179.3v-2.2M321.8 7.0v2.2M343.7 179.3v-2.2M343.7 7.0v2.2M365.6 179.3v-2.2M365.6 7.0v2.2M387.5 179.3v-2.2M387.5 7.0v2.2M409.4 179.3v-2.2M409.4 7.0v2.2M431.4 179.3v-2.2M431.4 7.0v2.2M453.3 179.3v-2.2M453.3 7.0v2.2M475.2 179.3v-2.2M475.2 7.0v2.2M497.1 179.3v-2.2M497.1 7.0v2.2M519.0 179.3v-2.2M519.0 7.0v2.2M541.0 179.3v-2.2M541.0 7.0v2.2M321.9 179.4h2.2M541.0 179.4h-2.2M321.9 162.2h2.2M541.0 162.2h-2.2M321.9 144.9h2.2M541.0 144.9h-2.2M321.9 127.7h2.2M541.0 127.7h-2.2M321.9 110.5h2.2M541.0 110.5h-2.2M321.9 93.2h2.2M541.0 93.2h-2.2M321.9 76.0h2.2M541.0 76.0h-2.2M321.9 58.8h2.2M541.0 58.8h-2.2M321.9 41.6h2.2M541.0 41.6h-2.2M321.9 24.3h2.2M541.0 24.3h-2.2M321.9 7.1h2.2M541.0 7.1h-2.2" fill="none" stroke="#808080" stroke-width="0.8"/>
<text x="321.8" y="189.3" text-anchor="middle" font-size="6.4">-0.02</text>
<text x="343.7" y="189.3" text-anchor="middle" font-size="6.4">-0.01</text>
<text x="365.6" y="189.3" text-anchor="middle" font-size="6.4">0</text>
<text x="387.5" y="189.3" text-anchor="middle" font-size="6.4">0.01</text>
<text x="409.4" y="189.3" text-anchor="middle" font-size="6.4">0.02</text>
<text x="431.4" y="189.3" text-anchor="middle" font-size="6.4">0.03</text>
<text x="453.3" y="189.3" text-anchor="middle" font-size="6.4">0.04</text>
<text x="475.2" y="189.3" text-anchor="middle" font-size="6.4">0.05</text>
<text x="497.1" y="189.3" text-anchor="middle" font-size="6.4">0.06</text>
<text x="519.0" y="189.3" text-anchor="middle" font-size="6.4">0.07</text>
<text x="541.0" y="189.3" text-anchor="middle" font-size="6.4">0.08</text>
<text x="318.7" y="182.2" text-anchor="end" font-size="6.4">0</text>
<text x="318.7" y="165.0" text-anchor="end" font-size="6.4">0.1</text>
<text x="318.7" y="147.7" text-anchor="end" font-size="6.4">0.2</text>
<text x="318.7" y="130.5" text-anchor="end" font-size="6.4">0.3</text>
<text x="318.7" y="113.3" text-anchor="end" font-size="6.4">0.4</text>
<text x="318.7" y="96.0" text-anchor="end" font-size="6.4">0.5</text>
<text x="318.7" y="78.8" text-anchor="end" font-size="6.4">0.6</text>
<text x="318.7" y="61.6" text-anchor="end" font-size="6.4">0.7</text>
<text x="318.7" y="44.4" text-anchor="end" font-size="6.4">0.8</text>
<text x="318.7" y="27.1" text-anchor="end" font-size="6.4">0.9</text>
<text x="318.7" y="9.9" text-anchor="end" font-size="6.4">1</text>
<text x="431.4" y="198.6" text-anchor="middle" font-size="7.35">time (s)</text>
<text transform="translate(305.1 94.0) rotate(-90)" text-anchor="middle" font-size="7.35">input inductor current IL1 (A)</text>
<rect x="488.3" y="149.6" width="47.0" height="24.6" fill="#fff" stroke="#6e6e6e" stroke-width="1"/>
<line x1="490.2" y1="156.1" x2="510.5" y2="156.1" stroke="#D95319" stroke-width="1.8"/>
<text transform="translate(511.8 158.0) scale(0.92 1)" font-size="6.4" style="stroke-width:0.2px">I<tspan dy="2.2" font-size="5.1">L1</tspan><tspan dy="-2.2" dx="0.9"> </tspan>sim.</text>
<line x1="490.2" y1="167.4" x2="510.5" y2="167.4" stroke="#0072BD" stroke-width="1.8"/>
<text transform="translate(511.8 169.3) scale(0.92 1)" font-size="6.4" style="stroke-width:0.2px">I<tspan dy="2.2" font-size="5.1">L1</tspan><tspan dy="-2.2" dx="0.9"> </tspan>exp.</text>
<text transform="translate(426.0 219.3) scale(0.95 1)" text-anchor="middle" font-family="Liberation Serif, serif" font-size="13.4" fill="#111" style="stroke:none">(<tspan font-weight="bold">b</tspan>)</text>
<clipPath id="cc"><rect x="26.4" y="242.6" width="219.0" height="172.6"/></clipPath>
<path d="M47.5 242.6V415.2M69.5 242.6V415.2" fill="none" stroke="#9e9e9e" stroke-width="0.9"/>
<path d="M26.4 363.5H175.3M26.4 397.5H175.3M175.3 277.5H245.4M175.3 311.5H245.4" fill="none" stroke="#a6a6a6" stroke-width="0.9"/>
<g clip-path="url(#cc)">
<polygon points="26.3,286.4 70.6,286.4 71.0,300.0 71.6,346.0 72.2,344.0 72.2,343.8 72.2,343.7 72.2,343.4 72.2,343.2 72.3,343.0 72.3,342.7 72.3,342.5 72.3,342.2 72.3,341.9 72.3,341.6 72.4,341.3 72.4,340.9 72.4,340.6 72.4,340.3 72.4,339.9 72.5,339.5 72.5,339.2 72.5,338.8 72.5,338.5 72.5,338.1 72.6,337.7 72.6,337.4 72.6,337.0 72.6,336.6 72.6,336.3 72.7,335.9 72.7,335.6 72.7,335.3 72.7,334.9 72.8,334.6 72.8,334.3 72.8,334.0 72.8,333.7 72.9,333.5 72.9,333.2 72.9,333.0 72.9,332.5 73.0,332.1 73.0,331.6 73.1,331.2 73.2,330.8 73.2,330.4 73.3,330.0 73.3,329.6 73.4,329.3 73.4,329.0 73.5,328.7 73.5,328.5 73.6,328.3 73.6,328.1 73.7,328.0 73.7,327.9 73.8,327.8 73.9,327.8 73.9,327.8 74.0,328.0 74.1,328.2 74.2,328.5 74.2,328.8 74.3,329.2 74.4,329.6 74.5,330.0 74.5,330.5 74.6,331.0 74.7,331.5 74.7,331.7 74.8,332.0 74.8,332.2 74.8,332.4 74.9,332.7 74.9,333.0 74.9,333.2 75.0,333.5 75.0,333.8 75.1,334.1 75.1,334.4 75.1,334.7 75.2,335.0 75.2,335.3 75.2,335.6 75.3,335.9 75.3,336.3 75.4,336.6 75.4,336.9 75.4,337.2 75.5,337.6 75.5,337.9 75.6,338.3 75.6,338.6 75.7,339.0 75.7,339.3 75.8,339.7 75.8,340.0 75.8,340.3 75.9,340.5 75.9,340.8 75.9,341.1 76.0,341.4 76.0,341.7 76.1,342.0 76.1,342.3 76.1,342.6 76.2,342.9 76.2,343.2 76.3,343.5 76.3,343.9 76.4,344.2 76.4,344.5 76.4,344.8 76.5,345.1 76.5,345.5 76.6,345.8 76.6,346.1 76.7,346.4 76.7,346.7 76.8,347.1 76.8,347.4 76.8,347.7 76.9,348.0 76.9,348.3 77.0,348.6 77.0,348.9 77.1,349.2 77.1,349.4 77.2,349.7 77.2,350.0 77.3,350.3 77.3,350.5 77.4,350.8 77.4,351.0 77.5,351.4 77.6,351.8 77.6,352.2 77.7,352.6 77.8,353.0 77.9,353.4 78.0,353.7 78.1,354.1 78.2,354.5 78.3,354.8 78.4,355.1 78.5,355.4 78.6,355.7 78.6,356.0 78.7,356.3 78.8,356.5 78.9,356.8 79.0,357.0 79.1,357.1 79.1,357.3 79.2,357.4 79.3,357.5 79.5,357.6 79.6,357.6 79.7,357.4 79.9,357.2 80.0,356.8 80.1,356.4 80.3,356.0 80.4,355.5 80.5,355.0 80.6,354.5 80.6,354.3 80.7,354.0 80.7,353.8 80.8,353.5 80.8,353.2 80.9,353.0 80.9,352.7 80.9,352.4 81.0,352.1 81.0,351.7 81.0,351.4 81.1,351.1 81.1,350.8 81.2,350.4 81.2,350.1 81.2,349.8 81.3,349.4 81.3,349.1 81.3,348.8 81.4,348.4 81.4,348.1 81.5,347.8 81.5,347.5 81.5,347.2 81.6,346.9 81.6,346.6 81.7,346.2 81.7,345.9 81.8,345.6 81.8,345.3 81.9,344.9 81.9,344.6 81.9,344.3 82.0,343.9 82.0,343.6 82.1,343.3 82.1,343.0 82.2,342.7 82.2,342.4 82.3,342.1 82.3,341.8 82.4,341.5 82.4,341.2 82.5,341.0 82.5,340.7 82.6,340.5 82.7,340.1 82.8,339.7 82.9,339.3 83.0,339.0 83.2,338.7 83.3,338.4 83.4,338.1 83.5,337.8 83.6,337.6 83.8,337.4 83.9,337.2 84.0,337.0 84.3,336.6 84.6,336.3 84.9,336.3 85.3,336.3 85.5,336.4 85.8,336.5 86.1,336.6 86.4,336.8 86.7,337.1 87.0,337.3 87.3,337.6 87.5,337.8 87.7,338.0 87.9,338.2 88.1,338.5 88.3,338.7 88.5,339.0 88.7,339.3 88.9,339.5 89.1,339.8 89.3,340.0 89.5,340.3 89.7,340.6 89.9,340.8 90.1,341.1 90.3,341.3 90.5,341.6 90.7,341.9 90.8,342.1 91.0,342.4 91.2,342.6 91.3,342.8 91.5,343.0 91.8,343.4 92.0,343.7 92.2,343.9 92.4,344.1 92.7,344.1 92.9,344.0 93.2,343.9 93.4,343.7 93.7,343.5 94.0,343.2 94.2,342.9 94.5,342.6 94.7,342.4 94.8,342.2 95.0,341.9 95.1,341.6 95.3,341.4 95.5,341.1 95.6,340.8 95.8,340.5 96.0,340.3 96.2,340.0 96.3,339.8 96.5,339.6 96.8,339.3 97.0,339.1 97.3,338.9 97.5,338.7 97.8,338.5 98.1,338.4 98.3,338.3 98.6,338.3 98.9,338.3 99.2,338.4 99.5,338.5 99.8,338.7 100.1,338.8 100.4,339.0 100.7,339.2 101.0,339.4 101.3,339.6 101.5,339.8 101.8,340.0 102.1,340.2 102.3,340.5 102.6,340.7 102.8,340.9 103.1,341.1 103.3,341.3 103.6,341.5 103.9,341.8 104.2,341.9 104.5,342.1 104.8,342.2 105.1,342.2 105.4,342.2 105.7,342.0 106.0,341.9 106.3,341.7 106.6,341.5 106.9,341.4 107.2,341.2 107.5,341.0 107.8,340.8 108.1,340.7 108.4,340.5 108.7,340.3 109.0,340.1 109.3,340.0 109.5,339.8 109.8,339.7 110.1,339.6 110.4,339.5 110.7,339.4 111.0,339.3 111.3,339.3 111.6,339.3 111.9,339.4 112.2,339.4 112.5,339.6 112.8,339.7 113.1,339.8 113.4,340.0 113.7,340.1 114.0,340.2 114.3,340.3 114.6,340.4 114.9,340.6 115.2,340.7 115.5,340.8 115.8,340.8 116.2,340.8 116.4,340.8 116.7,340.7 116.9,340.7 117.2,340.6 117.4,340.5 117.7,340.4 118.0,340.3 118.3,340.3 118.6,340.2 118.9,340.1 119.3,340.0 119.6,339.9 120.0,339.8 120.2,339.8 120.5,339.7 120.7,339.7 120.9,339.6 121.1,339.6 121.3,339.5 121.5,339.5 121.8,339.4 122.0,339.4 122.2,339.3 122.5,339.3 122.8,339.3 123.1,339.2 123.4,339.2 123.7,339.1 124.1,339.1 124.5,339.0 125.0,339.0 125.5,338.9 126.0,338.9 126.2,338.9 126.4,338.9 126.6,338.8 126.8,338.8 127.0,338.8 127.2,338.8 127.4,338.8 127.7,338.8 127.9,338.8 128.1,338.7 128.3,338.7 128.5,338.7 128.7,338.7 128.9,338.7 129.2,338.7 129.4,338.6 129.6,338.6 129.9,338.6 130.1,338.6 130.3,338.6 130.6,338.6 130.8,338.6 131.1,338.5 131.3,338.5 131.6,338.5 131.9,338.5 132.1,338.5 132.4,338.5 132.7,338.4 133.0,338.4 133.3,338.4 133.6,338.4 133.9,338.4 134.2,338.4 134.6,338.4 134.9,338.3 135.2,338.3 135.6,338.3 135.9,338.3 136.3,338.3 136.7,338.2 137.1,338.2 137.5,338.2 137.9,338.2 138.3,338.2 138.7,338.1 139.2,338.1 139.6,338.1 140.1,338.1 140.5,338.1 141.0,338.0 141.5,338.0 142.0,338.0 142.2,338.0 142.4,338.0 142.6,338.0 142.9,338.0 143.1,338.0 143.3,337.9 143.5,337.9 143.7,337.9 144.0,337.9 144.2,337.9 144.4,337.9 144.6,337.9 144.9,337.9 145.1,337.9 145.3,337.9 145.6,337.8 145.8,337.8 146.0,337.8 146.3,337.8 146.5,337.8 146.7,337.8 147.0,337.8 147.2,337.8 147.5,337.8 147.7,337.7 147.9,337.7 148.2,337.7 148.4,337.7 148.7,337.7 148.9,337.7 149.2,337.7 149.4,337.7 149.7,337.7 149.9,337.6 150.2,337.6 150.5,337.6 150.7,337.6 151.0,337.6 151.2,337.6 151.5,337.6 151.8,337.6 152.0,337.6 152.3,337.5 152.6,337.5 152.8,337.5 153.1,337.5 153.4,337.5 153.6,337.5 153.9,337.5 154.2,337.5 154.5,337.5 154.7,337.4 155.0,337.4 155.3,337.4 155.6,337.4 155.9,337.4 156.2,337.4 156.4,337.4 156.7,337.4 157.0,337.3 157.3,337.3 157.6,337.3 157.9,337.3 158.2,337.3 158.5,337.3 158.8,337.3 159.1,337.3 159.4,337.2 159.7,337.2 160.0,337.2 160.3,337.2 160.6,337.2 160.9,337.2 161.3,337.2 161.6,337.2 161.9,337.1 162.2,337.1 162.5,337.1 162.8,337.1 163.2,337.1 163.5,337.1 163.8,337.1 164.2,337.1 164.5,337.0 164.8,337.0 165.1,337.0 165.5,337.0 165.8,337.0 166.2,337.0 166.5,337.0 166.8,337.0 167.2,336.9 167.5,336.9 167.9,336.9 168.2,336.9 168.6,336.9 168.9,336.9 169.3,336.9 169.6,336.9 170.0,336.8 170.4,336.8 170.7,336.8 171.1,336.8 171.5,336.8 171.8,336.8 172.2,336.8 172.6,336.7 172.9,336.7 173.3,336.7 173.7,336.7 174.1,336.7 174.4,336.7 174.8,336.7 175.2,336.7 175.6,336.6 176.0,336.6 176.4,336.6 176.8,336.6 177.2,336.6 177.6,336.6 178.0,336.6 178.4,336.6 178.8,336.5 179.2,336.5 179.6,336.5 180.0,336.5 180.2,336.5 180.5,336.5 180.7,336.5 181.0,336.5 181.2,336.5 181.5,336.5 181.7,336.4 182.0,336.4 182.2,336.4 182.5,336.4 182.8,336.4 183.0,336.4 183.3,336.4 183.6,336.4 183.8,336.4 184.1,336.4 184.4,336.4 184.7,336.4 184.9,336.3 185.2,336.3 185.5,336.3 185.8,336.3 186.1,336.3 186.4,336.3 186.7,336.3 187.0,336.3 187.2,336.3 187.5,336.3 187.8,336.3 188.1,336.3 188.4,336.2 188.7,336.2 189.1,336.2 189.4,336.2 189.7,336.2 190.0,336.2 190.3,336.2 190.6,336.2 190.9,336.2 191.2,336.2 191.6,336.2 191.9,336.1 192.2,336.1 192.5,336.1 192.8,336.1 193.2,336.1 193.5,336.1 193.8,336.1 194.1,336.1 194.5,336.1 194.8,336.1 195.1,336.1 195.5,336.0 195.8,336.0 196.1,336.0 196.5,336.0 196.8,336.0 197.2,336.0 197.5,336.0 197.8,336.0 198.2,336.0 198.5,336.0 198.9,335.9 199.2,335.9 199.6,335.9 199.9,335.9 200.2,335.9 200.6,335.9 200.9,335.9 201.3,335.9 201.6,335.9 202.0,335.9 202.3,335.9 202.7,335.8 203.0,335.8 203.4,335.8 203.7,335.8 204.1,335.8 204.5,335.8 204.8,335.8 205.2,335.8 205.5,335.8 205.9,335.8 206.2,335.7 206.6,335.7 206.9,335.7 207.3,335.7 207.6,335.7 208.0,335.7 208.4,335.7 208.7,335.7 209.1,335.7 209.4,335.7 209.8,335.6 210.1,335.6 210.5,335.6 210.9,335.6 211.2,335.6 211.6,335.6 211.9,335.6 212.3,335.6 212.6,335.6 213.0,335.6 213.4,335.6 213.7,335.5 214.1,335.5 214.4,335.5 214.8,335.5 215.1,335.5 215.5,335.5 215.8,335.5 216.2,335.5 216.5,335.5 216.9,335.5 217.2,335.4 217.6,335.4 217.9,335.4 218.3,335.4 218.6,335.4 219.0,335.4 219.3,335.4 219.7,335.4 220.0,335.4 220.4,335.4 220.7,335.4 221.1,335.3 221.4,335.3 221.7,335.3 222.1,335.3 222.4,335.3 222.8,335.3 223.1,335.3 223.4,335.3 223.8,335.3 224.1,335.3 224.4,335.3 224.8,335.2 225.1,335.2 225.4,335.2 225.8,335.2 226.1,335.2 226.4,335.2 226.7,335.2 227.1,335.2 227.4,335.2 227.7,335.2 228.0,335.2 228.4,335.2 228.7,335.1 229.0,335.1 229.3,335.1 229.6,335.1 229.9,335.1 230.2,335.1 230.5,335.1 230.8,335.1 231.1,335.1 231.5,335.1 231.8,335.1 232.1,335.1 232.4,335.0 232.6,335.0 232.9,335.0 233.2,335.0 233.5,335.0 233.8,335.0 234.1,335.0 234.4,335.0 234.7,335.0 234.9,335.0 235.2,335.0 235.5,335.0 235.8,335.0 236.0,335.0 236.3,334.9 236.6,334.9 236.8,334.9 237.1,334.9 237.4,334.9 237.6,334.9 237.9,334.9 238.1,334.9 238.4,334.9 238.6,334.9 238.9,334.9 239.1,334.9 239.4,334.9 239.6,334.9 239.9,334.9 240.1,334.8 240.3,334.8 240.5,334.8 240.8,334.8 241.0,334.8 241.2,334.8 241.4,334.8 241.7,334.8 241.9,334.8 242.1,334.8 242.3,334.8 242.5,334.8 242.7,334.8 242.9,334.8 243.1,334.8 243.3,334.8 243.5,334.8 243.7,334.8 243.8,334.7 244.0,334.7 244.2,334.7 244.4,334.7 244.5,334.7 244.7,334.7 244.9,334.7 245.0,334.7 245.2,334.7 245.3,334.7 245.5,334.7 245.5,348.4 245.3,348.4 245.2,348.4 245.0,348.4 244.9,348.4 244.7,348.4 244.5,348.4 244.4,348.4 244.2,348.4 244.0,348.4 243.8,348.4 243.7,348.4 243.5,348.4 243.3,348.5 243.1,348.5 242.9,348.5 242.7,348.5 242.5,348.5 242.3,348.5 242.1,348.5 241.9,348.5 241.7,348.5 241.4,348.5 241.2,348.5 241.0,348.5 240.8,348.5 240.5,348.5 240.3,348.5 240.1,348.5 239.9,348.5 239.6,348.5 239.4,348.5 239.1,348.6 238.9,348.6 238.6,348.6 238.4,348.6 238.1,348.6 237.9,348.6 237.6,348.6 237.4,348.6 237.1,348.6 236.8,348.6 236.6,348.6 236.3,348.6 236.0,348.6 235.8,348.6 235.5,348.6 235.2,348.6 234.9,348.7 234.7,348.7 234.4,348.7 234.1,348.7 233.8,348.7 233.5,348.7 233.2,348.7 232.9,348.7 232.6,348.7 232.4,348.7 232.1,348.7 231.8,348.7 231.5,348.7 231.1,348.7 230.8,348.7 230.5,348.8 230.2,348.8 229.9,348.8 229.6,348.8 229.3,348.8 229.0,348.8 228.7,348.8 228.4,348.8 228.0,348.8 227.7,348.8 227.4,348.8 227.1,348.8 226.7,348.8 226.4,348.9 226.1,348.9 225.8,348.9 225.4,348.9 225.1,348.9 224.8,348.9 224.4,348.9 224.1,348.9 223.8,348.9 223.4,348.9 223.1,348.9 222.8,348.9 222.4,348.9 222.1,349.0 221.7,349.0 221.4,349.0 221.1,349.0 220.7,349.0 220.4,349.0 220.0,349.0 219.7,349.0 219.3,349.0 219.0,349.0 218.6,349.0 218.3,349.0 217.9,349.1 217.6,349.1 217.2,349.1 216.9,349.1 216.5,349.1 216.2,349.1 215.8,349.1 215.5,349.1 215.1,349.1 214.8,349.1 214.4,349.1 214.1,349.1 213.7,349.2 213.4,349.2 213.0,349.2 212.6,349.2 212.3,349.2 211.9,349.2 211.6,349.2 211.2,349.2 210.9,349.2 210.5,349.2 210.1,349.2 209.8,349.2 209.4,349.3 209.1,349.3 208.7,349.3 208.4,349.3 208.0,349.3 207.6,349.3 207.3,349.3 206.9,349.3 206.6,349.3 206.2,349.3 205.9,349.3 205.5,349.3 205.2,349.4 204.8,349.4 204.5,349.4 204.1,349.4 203.7,349.4 203.4,349.4 203.0,349.4 202.7,349.4 202.3,349.4 202.0,349.4 201.6,349.4 201.3,349.5 200.9,349.5 200.6,349.5 200.2,349.5 199.9,349.5 199.6,349.5 199.2,349.5 198.9,349.5 198.5,349.5 198.2,349.5 197.8,349.5 197.5,349.5 197.2,349.6 196.8,349.6 196.5,349.6 196.1,349.6 195.8,349.6 195.5,349.6 195.1,349.6 194.8,349.6 194.5,349.6 194.1,349.6 193.8,349.6 193.5,349.6 193.2,349.7 192.8,349.7 192.5,349.7 192.2,349.7 191.9,349.7 191.6,349.7 191.2,349.7 190.9,349.7 190.6,349.7 190.3,349.7 190.0,349.7 189.7,349.7 189.4,349.8 189.1,349.8 188.7,349.8 188.4,349.8 188.1,349.8 187.8,349.8 187.5,349.8 187.2,349.8 187.0,349.8 186.7,349.8 186.4,349.8 186.1,349.8 185.8,349.8 185.5,349.9 185.2,349.9 184.9,349.9 184.7,349.9 184.4,349.9 184.1,349.9 183.8,349.9 183.6,349.9 183.3,349.9 183.0,349.9 182.8,349.9 182.5,349.9 182.2,349.9 182.0,349.9 181.7,350.0 181.5,350.0 181.2,350.0 181.0,350.0 180.7,350.0 180.5,350.0 180.2,350.0 180.0,350.0 179.6,350.0 179.2,350.0 178.8,350.0 178.4,350.0 178.0,350.1 177.6,350.1 177.2,350.1 176.8,350.1 176.4,350.1 176.0,350.1 175.6,350.1 175.2,350.1 174.8,350.1 174.4,350.2 174.1,350.2 173.7,350.2 173.3,350.2 172.9,350.2 172.6,350.2 172.2,350.2 171.8,350.2 171.5,350.2 171.1,350.3 170.7,350.3 170.4,350.3 170.0,350.3 169.6,350.3 169.3,350.3 168.9,350.3 168.6,350.3 168.2,350.3 167.9,350.4 167.5,350.4 167.2,350.4 166.8,350.4 166.5,350.4 166.2,350.4 165.8,350.4 165.5,350.4 165.1,350.4 164.8,350.5 164.5,350.5 164.2,350.5 163.8,350.5 163.5,350.5 163.2,350.5 162.8,350.5 162.5,350.5 162.2,350.5 161.9,350.6 161.6,350.6 161.3,350.6 160.9,350.6 160.6,350.6 160.3,350.6 160.0,350.6 159.7,350.6 159.4,350.6 159.1,350.7 158.8,350.7 158.5,350.7 158.2,350.7 157.9,350.7 157.6,350.7 157.3,350.7 157.0,350.7 156.7,350.7 156.4,350.7 156.2,350.8 155.9,350.8 155.6,350.8 155.3,350.8 155.0,350.8 154.7,350.8 154.5,350.8 154.2,350.8 153.9,350.8 153.6,350.8 153.4,350.9 153.1,350.9 152.8,350.9 152.6,350.9 152.3,350.9 152.0,350.9 151.8,350.9 151.5,350.9 151.2,350.9 151.0,350.9 150.7,351.0 150.5,351.0 150.2,351.0 149.9,351.0 149.7,351.0 149.4,351.0 149.2,351.0 148.9,351.0 148.7,351.0 148.4,351.0 148.2,351.1 147.9,351.1 147.7,351.1 147.5,351.1 147.2,351.1 147.0,351.1 146.7,351.1 146.5,351.1 146.3,351.1 146.0,351.1 145.8,351.1 145.6,351.2 145.3,351.2 145.1,351.2 144.9,351.2 144.6,351.2 144.4,351.2 144.2,351.2 144.0,351.2 143.7,351.2 143.5,351.2 143.3,351.2 143.1,351.3 142.9,351.3 142.6,351.3 142.4,351.3 142.2,351.3 142.0,351.3 141.5,351.3 141.0,351.3 140.5,351.4 140.1,351.4 139.6,351.4 139.2,351.4 138.7,351.4 138.3,351.5 137.9,351.5 137.5,351.5 137.1,351.5 136.7,351.5 136.4,351.5 136.0,351.6 135.6,351.6 135.3,351.6 135.0,351.6 134.6,351.6 134.3,351.6 134.0,351.7 133.7,351.7 133.4,351.7 133.1,351.7 132.8,351.7 132.5,351.7 132.2,351.7 132.0,351.8 131.7,351.8 131.5,351.8 131.2,351.8 131.0,351.8 130.7,351.8 130.5,351.8 130.2,351.9 130.0,351.9 129.8,351.9 129.5,351.9 129.3,351.9 129.1,351.9 128.9,352.0 128.6,352.0 128.4,352.0 128.2,352.0 128.0,352.0 127.8,352.0 127.5,352.1 127.3,352.1 127.1,352.1 126.9,352.1 126.7,352.1 126.4,352.2 126.2,352.2 126.0,352.2 125.6,352.2 125.1,352.3 124.7,352.3 124.3,352.4 123.9,352.4 123.6,352.5 123.2,352.6 122.9,352.6 122.6,352.7 122.3,352.7 122.0,352.8 121.7,352.9 121.4,352.9 121.2,353.0 120.9,353.0 120.6,353.1 120.4,353.1 120.1,353.2 119.9,353.2 119.7,353.3 119.4,353.3 119.2,353.4 118.9,353.4 118.7,353.4 118.4,353.5 118.2,353.5 117.8,353.5 117.5,353.6 117.1,353.6 116.8,353.6 116.4,353.6 116.1,353.6 115.8,353.6 115.5,353.5 115.2,353.5 114.9,353.5 114.6,353.5 114.4,353.5 114.1,353.4 113.8,353.4 113.5,353.4 113.3,353.4 113.0,353.4 112.6,353.4 112.3,353.4 112.0,353.4 111.6,353.4 111.3,353.3 111.0,353.3 110.7,353.3 110.4,353.3 110.1,353.3 109.8,353.3 109.5,353.3 109.3,353.4 109.0,353.4 108.6,353.5 108.3,353.6 108.0,353.7 107.7,353.8 107.4,354.0 107.1,354.1 106.8,354.3 106.5,354.4 106.2,354.5 105.9,354.7 105.6,354.8 105.3,355.0 105.1,355.2 104.8,355.3 104.4,355.4 104.1,355.5 103.8,355.6 103.5,355.6 103.2,355.6 102.9,355.6 102.6,355.6 102.3,355.5 102.0,355.5 101.7,355.4 101.4,355.4 101.1,355.3 100.8,355.3 100.5,355.3 100.2,355.3 99.8,355.3 99.5,355.4 99.2,355.4 98.9,355.4 98.5,355.5 98.2,355.6 97.9,355.7 97.6,355.8 97.3,355.9 97.0,356.0 96.8,356.2 96.5,356.4 96.2,356.6 96.0,356.8 95.7,357.0 95.5,357.2 95.2,357.4 95.0,357.6 94.7,357.8 94.5,358.0 94.2,358.2 93.9,358.4 93.6,358.6 93.3,358.8 93.1,358.9 92.8,359.1 92.5,359.2 92.3,359.3 92.0,359.3 91.7,359.3 91.4,359.2 91.1,359.1 90.9,358.9 90.6,358.7 90.3,358.6 90.0,358.4 89.7,358.3 89.5,358.1 89.2,357.9 89.0,357.7 88.7,357.5 88.4,357.4 88.1,357.3 87.8,357.2 87.5,357.2 87.2,357.2 87.0,357.3 86.7,357.4 86.4,357.6 86.1,357.7 85.8,357.9 85.6,358.1 85.3,358.3 85.0,358.6 84.7,358.8 84.5,359.0 84.3,359.2 84.1,359.4 83.9,359.6 83.7,359.9 83.5,360.1 83.3,360.4 83.2,360.6 83.0,360.9 82.8,361.2 82.6,361.4 82.5,361.7 82.3,362.0 82.1,362.3 82.0,362.5 81.8,362.8 81.7,363.1 81.5,363.4 81.4,363.6 81.2,363.9 81.1,364.2 80.9,364.5 80.8,364.8 80.7,365.1 80.5,365.4 80.4,365.7 80.3,366.0 80.2,366.3 80.1,366.6 80.0,367.0 79.9,367.3 79.8,367.7 79.8,368.0 79.7,368.3 79.6,368.6 79.6,369.0 79.5,369.2 79.4,369.5 79.4,369.8 79.3,370.0 79.1,370.5 78.9,370.9 78.7,371.2 78.6,371.4 78.4,371.5 78.2,371.5 78.0,371.3 77.8,370.9 77.6,370.3 77.5,370.1 77.5,369.9 77.4,369.7 77.3,369.4 77.3,369.1 77.2,368.9 77.1,368.6 77.1,368.3 77.0,367.9 76.9,367.6 76.8,367.2 76.7,366.8 76.6,366.4 76.5,366.0 76.4,365.8 76.4,365.5 76.3,365.3 76.3,365.0 76.2,364.7 76.1,364.4 76.0,364.1 76.0,363.8 75.9,363.5 75.8,363.2 75.7,362.9 75.7,362.5 75.6,362.2 75.5,361.9 75.4,361.6 75.4,361.2 75.3,360.9 75.2,360.6 75.1,360.3 75.0,360.0 75.0,359.6 74.9,359.3 74.8,359.1 74.7,358.8 74.7,358.5 74.6,358.2 74.5,358.0 74.4,357.6 74.3,357.2 74.1,356.9 74.0,356.5 73.9,356.2 73.7,355.8 73.6,355.5 73.4,355.2 73.3,354.8 73.2,354.6 73.1,354.3 72.9,354.0 72.8,353.8 72.7,353.5 72.6,353.3 72.6,353.2 72.5,353.0 71.0,352.0 70.6,330.0 70.2,300.4 26.3,300.4" fill="#D95319" stroke="#D95319" stroke-width="0.6" stroke-linejoin="round"/>
<polyline points="26.3,295.0 26.7,295.0 27.1,294.9 27.5,294.9 27.9,294.8 28.4,294.6 28.8,294.6 29.2,294.5 29.6,294.4 30.0,294.4 30.4,294.4 30.8,294.5 31.2,294.6 31.6,294.7 32.0,294.8 32.4,294.9 32.8,295.0 33.2,295.1 33.6,295.2 34.0,295.2 34.4,295.2 34.8,295.1 35.2,295.0 35.7,294.9 36.1,294.7 36.5,294.5 36.9,294.3 37.3,294.2 37.8,294.0 38.2,293.9 38.6,293.8 39.0,293.8 39.4,293.8 39.8,293.9 40.2,293.9 40.7,294.1 41.1,294.2 41.5,294.3 41.9,294.4 42.3,294.6 42.8,294.7 43.2,294.7 43.6,294.8 44.0,294.8 44.4,294.8 44.8,294.8 45.2,294.8 45.6,294.7 46.0,294.7 46.4,294.7 46.8,294.6 47.2,294.6 47.6,294.6 48.0,294.6 48.4,294.6 48.9,294.8 49.3,295.0 49.7,295.2 50.1,295.4 50.6,295.6 51.0,295.6 51.4,295.6 51.8,295.5 52.2,295.3 52.7,295.1 53.1,294.9 53.5,294.6 53.9,294.3 54.3,294.1 54.8,293.9 55.2,293.7 55.6,293.6 56.0,293.6 56.4,293.6 56.8,293.7 57.2,293.8 57.6,293.9 58.0,294.1 58.4,294.2 58.8,294.3 59.2,294.4 59.6,294.5 60.0,294.5 60.4,294.5 60.8,294.5 61.2,294.6 61.6,294.6 62.0,294.6 62.4,294.7 62.8,294.7 63.2,294.8 63.6,294.8 64.0,294.8 64.4,294.8 64.8,294.9 65.2,295.0 65.6,295.1 66.0,295.2 66.4,295.3 66.8,295.4 67.2,295.5 67.6,295.6 68.0,295.6 68.4,295.7 68.8,296.1 69.2,296.5 69.6,296.9 70.0,297.0 70.2,298.0 70.7,304.3 71.1,320.7 71.6,341.1 72.0,357.5 72.5,363.8 72.9,362.5 73.3,359.1 73.8,354.4 74.2,349.7 74.6,346.3 75.0,345.0 75.4,345.2 75.8,345.8 76.2,346.8 76.6,348.1 77.1,349.7 77.5,351.6 77.9,353.6 78.3,355.8 78.7,358.0 79.1,360.2 79.5,362.2 79.9,364.1 80.4,365.7 80.8,367.0 81.2,368.0 81.6,368.6 82.0,368.8 82.4,368.6 82.8,368.2 83.2,367.4 83.6,366.3 84.0,365.0 84.4,363.5 84.8,361.8 85.2,359.9 85.6,357.9 86.0,355.9 86.4,353.9 86.8,351.9 87.2,350.0 87.6,348.3 88.0,346.8 88.4,345.5 88.8,344.4 89.2,343.6 89.6,343.2 90.0,343.0 90.4,343.1 90.8,343.5 91.2,344.0 91.6,344.8 92.1,345.7 92.5,346.9 92.9,348.1 93.3,349.4 93.7,350.8 94.1,352.2 94.5,353.6 94.9,354.9 95.3,356.1 95.7,357.3 96.2,358.2 96.6,359.0 97.0,359.5 97.4,359.9 97.8,360.0 98.2,359.9 98.6,359.6 99.0,359.1 99.4,358.4 99.8,357.5 100.2,356.5 100.6,355.4 101.0,354.1 101.4,352.8 101.8,351.5 102.2,350.2 102.6,348.9 103.0,347.6 103.4,346.5 103.8,345.5 104.2,344.6 104.6,343.9 105.0,343.4 105.4,343.1 105.8,343.0 106.2,343.1 106.6,343.3 107.0,343.7 107.4,344.3 107.8,344.9 108.2,345.7 108.6,346.6 109.0,347.6 109.4,348.6 109.8,349.6 110.2,350.7 110.6,351.7 111.0,352.7 111.4,353.6 111.8,354.4 112.2,355.0 112.6,355.6 113.0,356.0 113.4,356.2 113.8,356.3 114.2,356.2 114.6,356.0 115.0,355.6 115.4,355.1 115.8,354.4 116.2,353.6 116.6,352.8 117.0,351.8 117.4,350.9 117.9,349.9 118.3,349.0 118.7,348.0 119.1,347.2 119.5,346.4 119.9,345.7 120.3,345.2 120.7,344.8 121.1,344.6 121.5,344.5 121.9,344.6 122.3,344.7 122.7,345.0 123.1,345.4 123.5,345.8 123.9,346.4 124.3,346.9 124.7,347.5 125.1,348.2 125.5,348.8 125.9,349.3 126.3,349.9 126.7,350.3 127.1,350.7 127.5,351.0 127.9,351.1 128.3,351.2 128.7,351.1 129.1,351.0 129.6,350.7 130.0,350.4 130.4,349.9 130.8,349.4 131.2,348.9 131.6,348.3 132.1,347.7 132.5,347.1 132.9,346.6 133.3,346.1 133.7,345.6 134.1,345.3 134.6,345.0 135.0,344.9 135.4,344.8 135.8,344.8 136.2,344.9 136.6,345.0 137.0,345.2 137.4,345.4 137.9,345.7 138.3,346.0 138.7,346.3 139.1,346.6 139.5,347.0 139.9,347.4 140.3,347.7 140.7,348.1 141.1,348.5 141.5,348.8 141.9,349.1 142.3,349.4 142.8,349.7 143.2,349.9 143.6,350.1 144.0,350.2 144.4,350.3 144.8,350.3 145.2,350.2 145.6,350.1 146.1,349.8 146.5,349.5 146.9,349.1 147.3,348.6 147.8,348.2 148.2,347.7 148.6,347.3 149.0,347.0 149.5,346.7 149.9,346.6 150.3,346.5 150.7,346.5 151.1,346.6 151.6,346.8 152.0,346.9 152.4,347.2 152.8,347.4 153.2,347.8 153.6,348.1 154.1,348.4 154.5,348.7 154.9,349.0 155.3,349.4 155.7,349.6 156.1,349.9 156.6,350.0 157.0,350.2 157.4,350.3 157.8,350.3 158.2,350.3 158.7,350.3 159.2,350.2 159.6,350.2 160.1,350.1 160.5,350.0 161.0,350.0 161.4,350.0 161.8,349.7 162.3,348.7 162.7,347.3 163.1,345.7 163.5,344.3 164.0,343.3 164.4,343.0 164.8,343.0 165.2,343.2 165.6,343.4 166.0,343.7 166.4,344.1 166.8,344.5 167.2,345.0 167.6,345.4 168.0,345.9 168.4,346.4 168.8,346.8 169.2,347.2 169.6,347.5 170.0,347.7 170.4,347.9 170.8,347.9 171.2,347.8 171.6,347.6 172.0,347.3 172.5,346.9 172.9,346.3 173.3,345.7 173.7,345.0 174.1,344.4 174.5,343.7 174.9,343.0 175.3,342.4 175.8,341.8 176.2,341.4 176.6,341.1 177.0,340.9 177.4,340.8 177.8,340.9 178.2,341.0 178.6,341.3 179.0,341.6 179.4,342.1 179.8,342.6 180.2,343.1 180.6,343.6 181.0,344.2 181.4,344.7 181.8,345.2 182.2,345.7 182.6,346.0 183.0,346.3 183.4,346.4 183.8,346.5 184.2,346.5 184.6,346.3 185.1,346.1 185.5,345.8 185.9,345.4 186.3,344.9 186.8,344.4 187.2,343.9 187.6,343.4 188.0,342.9 188.5,342.4 188.9,341.9 189.3,341.5 189.7,341.2 190.2,341.0 190.6,340.8 191.0,340.8 191.4,340.8 191.8,340.9 192.2,341.0 192.6,341.2 193.1,341.4 193.5,341.6 193.9,341.9 194.3,342.2 194.7,342.5 195.1,342.8 195.5,343.1 195.9,343.4 196.3,343.7 196.7,344.0 197.1,344.2 197.6,344.4 198.0,344.6 198.4,344.7 198.8,344.8 199.2,344.8 199.6,344.8 200.0,344.6 200.5,344.4 200.9,344.1 201.3,343.7 201.7,343.3 202.1,342.8 202.5,342.3 203.0,341.9 203.4,341.4 203.8,340.9 204.2,340.5 204.6,340.1 205.0,339.8 205.5,339.6 205.9,339.4 206.3,339.4 206.7,339.4 207.1,339.5 207.5,339.6 208.0,339.8 208.4,340.0 208.8,340.3 209.2,340.5 209.6,340.9 210.0,341.2 210.4,341.5 210.9,341.8 211.3,342.1 211.7,342.5 212.1,342.7 212.5,343.0 212.9,343.2 213.4,343.4 213.8,343.5 214.2,343.6 214.6,343.6 215.0,343.6 215.4,343.5 215.9,343.3 216.3,343.1 216.7,342.8 217.1,342.5 217.6,342.2 218.0,341.9 218.4,341.6 218.8,341.3 219.2,341.1 219.7,340.9 220.1,340.8 220.5,340.8 220.9,340.8 221.4,341.0 221.8,341.2 222.2,341.5 222.6,341.8 223.1,342.2 223.5,342.5 223.9,342.8 224.3,343.0 224.8,343.2 225.2,343.2 225.6,343.2 226.0,343.0 226.5,342.8 226.9,342.5 227.3,342.1 227.7,341.7 228.1,341.2 228.5,340.7 229.0,340.2 229.4,339.7 229.8,339.2 230.2,338.8 230.6,338.4 231.0,338.1 231.5,337.9 231.9,337.7 232.3,337.7 232.7,337.7 233.1,337.8 233.5,338.0 234.0,338.2 234.4,338.5 234.8,338.8 235.2,339.2 235.6,339.6 236.0,340.0 236.4,340.4 236.9,340.9 237.3,341.3 237.7,341.7 238.1,342.1 238.5,342.4 238.9,342.7 239.4,342.9 239.8,343.1 240.2,343.2 240.6,343.2 241.0,343.1 241.4,342.9 241.8,342.6 242.2,342.1 242.6,341.6 243.1,341.1 243.5,340.5 243.9,340.0 244.3,339.5 244.7,339.2 245.1,339.0 245.5,338.9" fill="none" stroke="#0072BD" stroke-width="1.75" stroke-linejoin="round" stroke-linecap="butt"/>
</g>
<path d="M26.4 242.6H245.4V415.2" fill="none" stroke="#a6a6a6" stroke-width="1"/>
<path d="M26.4 242.6V415.2H245.4" fill="none" stroke="#7c7c7c" stroke-width="1"/>
<path d="M26.3 415.2v-2.2M26.3 242.6v2.2M48.2 415.2v-2.2M48.2 242.6v2.2M70.1 415.2v-2.2M70.1 242.6v2.2M92.0 415.2v-2.2M92.0 242.6v2.2M113.9 415.2v-2.2M113.9 242.6v2.2M135.9 415.2v-2.2M135.9 242.6v2.2M157.8 415.2v-2.2M157.8 242.6v2.2M179.7 415.2v-2.2M179.7 242.6v2.2M201.6 415.2v-2.2M201.6 242.6v2.2M223.5 415.2v-2.2M223.5 242.6v2.2M245.5 415.2v-2.2M245.5 242.6v2.2M26.4 242.7h2.2M245.4 242.7h-2.2M26.4 259.9h2.2M245.4 259.9h-2.2M26.4 277.2h2.2M245.4 277.2h-2.2M26.4 294.4h2.2M245.4 294.4h-2.2M26.4 311.7h2.2M245.4 311.7h-2.2M26.4 328.9h2.2M245.4 328.9h-2.2M26.4 346.2h2.2M245.4 346.2h-2.2M26.4 363.4h2.2M245.4 363.4h-2.2M26.4 380.7h2.2M245.4 380.7h-2.2M26.4 397.9h2.2M245.4 397.9h-2.2M26.4 415.2h2.2M245.4 415.2h-2.2" fill="none" stroke="#808080" stroke-width="0.8"/>
<text x="26.3" y="425.2" text-anchor="middle" font-size="6.4">-0.02</text>
<text x="48.2" y="425.2" text-anchor="middle" font-size="6.4">-0.01</text>
<text x="70.1" y="425.2" text-anchor="middle" font-size="6.4">0</text>
<text x="92.0" y="425.2" text-anchor="middle" font-size="6.4">0.01</text>
<text x="113.9" y="425.2" text-anchor="middle" font-size="6.4">0.02</text>
<text x="135.9" y="425.2" text-anchor="middle" font-size="6.4">0.03</text>
<text x="157.8" y="425.2" text-anchor="middle" font-size="6.4">0.04</text>
<text x="179.7" y="425.2" text-anchor="middle" font-size="6.4">0.05</text>
<text x="201.6" y="425.2" text-anchor="middle" font-size="6.4">0.06</text>
<text x="223.5" y="425.2" text-anchor="middle" font-size="6.4">0.07</text>
<text x="245.5" y="425.2" text-anchor="middle" font-size="6.4">0.08</text>
<text x="23.2" y="245.5" text-anchor="end" font-size="6.4">0</text>
<text x="23.2" y="262.8" text-anchor="end" font-size="6.4">-1</text>
<text x="23.2" y="280.0" text-anchor="end" font-size="6.4">-2</text>
<text x="23.2" y="297.2" text-anchor="end" font-size="6.4">-3</text>
<text x="23.2" y="314.5" text-anchor="end" font-size="6.4">-4</text>
<text x="23.2" y="331.8" text-anchor="end" font-size="6.4">-5</text>
<text x="23.2" y="349.0" text-anchor="end" font-size="6.4">-6</text>
<text x="23.2" y="366.2" text-anchor="end" font-size="6.4">-7</text>
<text x="23.2" y="383.5" text-anchor="end" font-size="6.4">-8</text>
<text x="23.2" y="400.8" text-anchor="end" font-size="6.4">-9</text>
<text x="23.2" y="418.0" text-anchor="end" font-size="6.4">-10</text>
<text x="135.9" y="434.5" text-anchor="middle" font-size="7.35">time (s)</text>
<text transform="translate(10.2 329.7) rotate(-90)" text-anchor="middle" font-size="7.35">voltage variation (%)</text>
<rect x="165.7" y="385.4" width="74.2" height="24.0" fill="#fff" stroke="#6e6e6e" stroke-width="1"/>
<line x1="168.2" y1="391.9" x2="187.8" y2="391.9" stroke="#D95319" stroke-width="1.8"/>
<text transform="translate(189.8 393.8) scale(0.92 1)" font-size="6.4" style="stroke-width:0.2px">(V<tspan dy="2.2" font-size="5.1">2</tspan><tspan dy="-2.2">-V</tspan><tspan dy="2.2" font-size="5.1">2n</tspan><tspan dy="-2.2">)/V</tspan><tspan dy="2.2" font-size="5.1">2n</tspan><tspan dy="-2.2" dx="0.9"> </tspan>sim.</text>
<line x1="168.2" y1="403.0" x2="187.8" y2="403.0" stroke="#0072BD" stroke-width="1.8"/>
<text transform="translate(189.8 404.9) scale(0.92 1)" font-size="6.4" style="stroke-width:0.2px">(V<tspan dy="2.2" font-size="5.1">2</tspan><tspan dy="-2.2">-V</tspan><tspan dy="2.2" font-size="5.1">2n</tspan><tspan dy="-2.2">)/V</tspan><tspan dy="2.2" font-size="5.1">2n</tspan><tspan dy="-2.2" dx="0.9"> </tspan>exp.</text>
<text transform="translate(130.6 455.4) scale(0.95 1)" text-anchor="middle" font-family="Liberation Serif, serif" font-size="13.4" fill="#111" style="stroke:none">(<tspan font-weight="bold">c</tspan>)</text>
<clipPath id="cd"><rect x="321.9" y="242.6" width="219.1" height="172.6"/></clipPath>
<path d="M343.5 242.6V415.2M365.5 242.6V415.2M409.5 242.6V415.2M453.5 242.6V415.2M475.5 242.6V415.2M518.5 242.6V415.2" fill="none" stroke="#9e9e9e" stroke-width="0.9"/>
<path d="M321.9 311.5H541.0" fill="none" stroke="#a6a6a6" stroke-width="0.9"/>
<g clip-path="url(#cd)">
<polyline points="321.8,354.7 367.4,354.7 367.8,355.0 368.2,355.2 368.7,355.9 369.1,357.0 369.5,358.3 370.0,359.8 370.4,361.2 370.8,362.5 371.2,363.6 371.7,364.3 372.1,364.5 372.5,364.5 372.9,364.4 373.3,364.2 373.8,363.9 374.2,363.6 374.6,363.3 375.0,362.9 375.4,362.6 375.8,362.2 376.2,361.8 376.6,361.5 377.1,361.2 377.5,360.9 377.9,360.7 378.3,360.6 378.7,360.6 379.1,360.6 379.5,360.7 380.0,360.9 380.4,361.1 380.8,361.3 381.2,361.6 381.6,361.9 382.1,362.2 382.5,362.5 382.9,362.7 383.3,362.9 383.8,363.1 384.2,363.2 384.6,363.2 385.0,363.2 385.5,363.1 385.9,363.0 386.3,362.9 386.7,362.7 387.2,362.5 387.6,362.3 388.0,362.2 388.4,362.0 388.9,361.8 389.3,361.6 389.7,361.5 390.1,361.4 390.6,361.3 391.0,361.3 391.4,361.3 391.8,361.3 392.2,361.4 392.6,361.5 393.0,361.6 393.4,361.7 393.8,361.8 394.2,361.9 394.6,362.0 395.0,362.1 395.4,362.2 395.8,362.3 396.2,362.4 396.6,362.4 397.0,362.4 397.4,362.4 397.8,362.4 398.2,362.4 398.6,362.3 399.1,362.3 399.5,362.3 399.9,362.2 400.3,362.2 400.7,362.1 401.1,362.1 401.5,362.0 401.9,362.0 402.4,362.0 402.8,361.9 403.2,361.9 403.6,361.9 404.0,361.9 404.4,361.9 404.8,361.9 405.2,361.9 405.6,361.9 406.0,361.9 406.4,361.9 406.8,361.9 407.2,361.9 407.6,361.9 408.0,361.9 408.4,361.9 408.8,361.9 409.2,361.9 409.6,361.9 410.0,361.9 410.4,361.9 410.8,361.9 411.2,361.9 411.6,361.9 412.0,361.9 412.4,361.9 412.8,361.9 413.2,361.9 413.6,361.9 414.0,361.9 414.4,361.9 414.8,361.9 415.2,361.9 415.6,361.9 416.0,361.9 416.4,361.9 416.8,361.9 417.2,362.0 417.6,362.0 418.0,362.0 418.4,362.0 418.8,362.0 419.2,362.0 419.6,362.0 420.0,362.0 420.4,362.0 420.8,362.0 421.2,362.0 421.6,362.0 422.0,362.0 422.4,362.0 422.8,362.0 423.2,362.0 423.6,362.0 424.0,362.0 424.4,362.0 424.8,362.0 425.2,362.0 425.6,362.0 426.0,362.0 426.4,362.0 426.8,362.0 427.2,362.0 427.6,362.0 428.0,362.0 428.4,362.0 428.8,362.0 429.2,362.0 429.6,362.0 430.0,362.0 430.4,362.0 430.8,362.0 431.2,362.0 431.6,362.0 432.0,362.0 432.4,362.0 432.8,362.0 433.2,362.0 433.6,362.0 434.0,362.0 434.4,362.0 434.8,362.0 435.2,362.0 435.6,362.0 436.0,362.0 436.4,362.0 436.8,362.0 437.2,362.0 437.6,362.0 438.0,362.0 438.4,362.0 438.8,362.0 439.2,362.0 439.6,362.0 440.0,362.0 440.4,361.9 440.8,361.9 441.2,361.9 441.6,361.9 442.0,361.9 442.4,361.9 442.8,361.9 443.2,361.9 443.6,361.9 444.0,361.9 444.4,361.9 444.8,361.9 445.2,361.9 445.6,361.9 446.0,361.9 446.4,361.9 446.8,361.9 447.2,361.9 447.6,361.9 448.0,361.9 448.4,361.9 448.8,361.8 449.2,361.8 449.6,361.8 450.0,361.8 450.4,361.8 450.8,361.8 451.2,361.8 451.6,361.8 452.0,361.8 452.4,361.8 452.8,361.8 453.2,361.8 453.6,361.8 454.0,361.8 454.4,361.8 454.8,361.8 455.2,361.7 455.6,361.7 456.0,361.7 456.4,361.7 456.8,361.7 457.2,361.7 457.6,361.7 458.0,361.7 458.4,361.7 458.8,361.7 459.2,361.7 459.6,361.7 460.0,361.7 460.4,361.7 460.8,361.7 461.2,361.7 461.6,361.6 462.0,361.6 462.4,361.6 462.8,361.6 463.2,361.6 463.6,361.6 464.0,361.6 464.4,361.6 464.8,361.6 465.2,361.6 465.6,361.6 466.0,361.6 466.4,361.6 466.8,361.6 467.2,361.6 467.6,361.6 468.0,361.6 468.4,361.6 468.8,361.6 469.2,361.6 469.6,361.6 470.0,361.5 470.4,361.5 470.8,361.5 471.2,361.5 471.6,361.5 472.0,361.5 472.4,361.5 472.8,361.5 473.2,361.5 473.6,361.5 474.0,361.5 474.4,361.5 474.8,361.5 475.2,361.5 475.6,361.5 476.0,361.5 476.4,361.5 476.8,361.5 477.2,361.5 477.6,361.5 478.0,361.5 478.4,361.5 478.8,361.5 479.2,361.5 479.6,361.5 480.0,361.5 480.4,361.5 480.8,361.5 481.2,361.5 481.6,361.5 482.0,361.5 482.4,361.5 482.8,361.5 483.2,361.5 483.6,361.5 484.0,361.5 484.4,361.5 484.8,361.5 485.2,361.5 485.6,361.5 486.0,361.5 486.4,361.5 486.8,361.5 487.2,361.5 487.6,361.5 488.0,361.5 488.4,361.5 488.8,361.5 489.2,361.5 489.6,361.5 490.0,361.5 490.4,361.5 490.8,361.5 491.2,361.5 491.6,361.5 492.0,361.5 492.4,361.5 492.8,361.5 493.2,361.5 493.6,361.5 494.0,361.4 494.4,361.4 494.8,361.4 495.2,361.4 495.7,361.4 496.1,361.4 496.5,361.4 496.9,361.4 497.3,361.4 497.7,361.4 498.1,361.4 498.5,361.4 498.9,361.4 499.3,361.4 499.7,361.4 500.1,361.4 500.5,361.4 500.9,361.4 501.3,361.4 501.7,361.4 502.1,361.4 502.5,361.4 502.9,361.4 503.3,361.4 503.7,361.4 504.1,361.4 504.5,361.4 504.9,361.4 505.3,361.4 505.7,361.3 506.1,361.3 506.5,361.3 506.9,361.3 507.3,361.3 507.7,361.3 508.1,361.3 508.5,361.3 508.9,361.3 509.3,361.3 509.7,361.3 510.1,361.3 510.5,361.3 510.9,361.3 511.3,361.3 511.7,361.3 512.1,361.3 512.5,361.3 512.9,361.3 513.3,361.3 513.7,361.3 514.1,361.3 514.5,361.3 514.9,361.3 515.3,361.3 515.7,361.2 516.1,361.2 516.5,361.2 516.9,361.2 517.3,361.2 517.7,361.2 518.1,361.2 518.5,361.2 518.9,361.2 519.3,361.2 519.7,361.2 520.1,361.2 520.5,361.2 520.9,361.2 521.3,361.2 521.7,361.2 522.1,361.2 522.5,361.2 522.9,361.2 523.3,361.2 523.7,361.2 524.1,361.2 524.5,361.2 524.9,361.2 525.3,361.2 525.8,361.2 526.2,361.2 526.6,361.2 527.0,361.2 527.4,361.1 527.8,361.1 528.2,361.1 528.6,361.1 529.0,361.1 529.4,361.1 529.8,361.1 530.2,361.1 530.6,361.1 531.0,361.1 531.4,361.1 531.8,361.1 532.2,361.1 532.6,361.1 533.0,361.1 533.4,361.1 533.8,361.1 534.2,361.1 534.6,361.1 535.0,361.1 535.4,361.1 535.8,361.1 536.2,361.1 536.6,361.1 537.0,361.1 537.4,361.1 537.8,361.1 538.2,361.1 538.6,361.1 539.0,361.1 539.4,361.1 539.8,361.1 540.2,361.1 540.6,361.1 541.0,361.1" fill="none" stroke="#D95319" stroke-width="1.75" stroke-linejoin="round" stroke-linecap="butt"/>
<polyline points="321.8,347.3 322.3,347.3 322.7,347.4 323.2,347.5 323.6,347.7 324.1,347.8 324.5,347.9 325.0,347.9 325.4,347.9 325.8,347.8 326.2,347.8 326.6,347.7 327.0,347.6 327.4,347.4 327.8,347.3 328.2,347.3 328.6,347.2 329.0,347.2 329.4,347.2 329.8,347.3 330.2,347.3 330.6,347.4 331.0,347.5 331.4,347.6 331.8,347.7 332.2,347.7 332.6,347.8 333.0,347.8 333.4,347.8 333.8,347.8 334.2,347.7 334.7,347.6 335.1,347.5 335.5,347.5 335.9,347.4 336.3,347.3 336.8,347.2 337.2,347.1 337.6,347.1 338.0,347.1 338.4,347.1 338.8,347.1 339.2,347.2 339.7,347.2 340.1,347.3 340.5,347.4 340.9,347.5 341.3,347.6 341.8,347.6 342.2,347.7 342.6,347.7 343.0,347.7 343.4,347.7 343.8,347.7 344.2,347.6 344.7,347.6 345.1,347.5 345.5,347.4 345.9,347.4 346.3,347.3 346.8,347.3 347.2,347.2 347.6,347.2 348.0,347.2 348.4,347.2 348.8,347.3 349.2,347.3 349.6,347.4 350.0,347.5 350.4,347.7 350.8,347.8 351.2,347.8 351.6,347.9 352.0,347.9 352.4,347.9 352.8,347.9 353.2,347.8 353.7,347.7 354.1,347.6 354.5,347.6 354.9,347.5 355.3,347.4 355.8,347.3 356.2,347.2 356.6,347.2 357.0,347.2 357.4,347.2 357.8,347.2 358.2,347.3 358.6,347.4 359.0,347.4 359.4,347.5 359.8,347.6 360.2,347.7 360.6,347.7 361.0,347.7 361.4,347.7 361.9,347.7 362.3,347.6 362.8,347.6 363.2,347.5 363.6,347.4 364.1,347.4 364.5,347.4 364.9,347.3 365.3,347.1 365.8,346.7 366.2,346.4 366.6,346.1 367.0,346.0 367.4,346.0 367.8,346.2 368.2,346.4 368.7,346.7 369.1,347.1 369.5,347.6 369.9,348.1 370.3,348.6 370.7,349.3 371.1,349.9 371.5,350.6 372.0,351.2 372.4,351.9 372.8,352.5 373.2,353.2 373.6,353.7 374.0,354.2 374.4,354.7 374.8,355.1 375.3,355.4 375.7,355.6 376.1,355.8 376.5,355.8 376.9,355.7 377.3,355.6 377.7,355.2 378.1,354.8 378.5,354.3 378.9,353.7 379.3,353.0 379.7,352.3 380.1,351.5 380.6,350.8 381.0,350.0 381.4,349.2 381.8,348.5 382.2,347.8 382.6,347.2 383.0,346.7 383.4,346.3 383.8,345.9 384.2,345.8 384.6,345.7 385.0,345.8 385.5,345.9 385.9,346.2 386.3,346.6 386.7,347.1 387.2,347.7 387.6,348.3 388.0,348.8 388.4,349.4 388.9,350.0 389.3,350.5 389.7,350.9 390.1,351.2 390.6,351.3 391.0,351.4 391.4,351.4 391.8,351.3 392.2,351.1 392.6,350.9 393.0,350.7 393.5,350.4 393.9,350.1 394.3,349.7 394.7,349.4 395.1,349.0 395.5,348.6 395.9,348.1 396.3,347.7 396.7,347.4 397.1,347.0 397.5,346.7 398.0,346.4 398.4,346.2 398.8,346.0 399.2,345.8 399.6,345.7 400.0,345.7 400.4,345.7 400.9,345.8 401.3,346.0 401.7,346.2 402.1,346.4 402.6,346.7 403.0,347.0 403.4,347.3 403.8,347.6 404.3,347.9 404.7,348.1 405.1,348.3 405.5,348.5 406.0,348.6 406.4,348.6 406.8,348.6 407.2,348.5 407.6,348.4 408.0,348.3 408.4,348.1 408.9,347.8 409.3,347.6 409.7,347.3 410.1,347.0 410.5,346.7 410.9,346.5 411.3,346.2 411.7,345.9 412.1,345.6 412.5,345.4 413.0,345.1 413.4,344.9 413.8,344.8 414.2,344.7 414.6,344.6 415.0,344.6 415.4,344.6 415.8,344.6 416.2,344.7 416.6,344.7 417.0,344.8 417.4,344.9 417.8,345.0 418.2,345.2 418.6,345.3 419.0,345.4 419.4,345.6 419.8,345.7 420.2,345.9 420.6,346.0 421.0,346.2 421.4,346.3 421.8,346.4 422.2,346.6 422.6,346.7 423.0,346.8 423.4,346.9 423.8,346.9 424.2,347.0 424.6,347.0 425.0,347.0 425.4,347.0 425.8,347.0 426.2,346.9 426.6,346.8 427.0,346.7 427.4,346.6 427.8,346.5 428.2,346.4 428.7,346.2 429.1,346.1 429.5,346.0 429.9,345.9 430.3,345.8 430.7,345.7 431.1,345.7 431.5,345.7 431.9,345.7 432.3,345.8 432.8,345.8 433.2,345.9 433.6,346.0 434.0,346.1 434.5,346.2 434.9,346.3 435.3,346.4 435.7,346.5 436.2,346.5 436.6,346.6 437.0,346.6 437.4,346.6 437.8,346.5 438.2,346.5 438.7,346.4 439.1,346.2 439.5,346.1 439.9,346.0 440.3,345.9 440.8,345.7 441.2,345.7 441.6,345.6 442.0,345.6 442.4,345.6 442.8,345.6 443.2,345.7 443.6,345.7 444.0,345.8 444.4,345.9 444.8,346.0 445.2,346.0 445.6,346.1 446.0,346.2 446.4,346.3 446.8,346.3 447.2,346.4 447.6,346.4 448.0,346.4 448.4,346.4 448.8,346.4 449.2,346.3 449.6,346.2 450.0,346.1 450.5,346.0 450.9,345.8 451.3,345.7 451.7,345.5 452.1,345.4 452.5,345.2 452.9,345.0 453.3,344.9 453.7,344.7 454.1,344.6 454.5,344.4 455.0,344.3 455.4,344.2 455.8,344.1 456.2,344.0 456.6,344.0 457.0,344.0 457.4,344.0 457.8,344.1 458.2,344.2 458.6,344.3 459.0,344.5 459.4,344.7 459.8,344.9 460.2,345.1 460.6,345.3 461.0,345.5 461.4,345.7 461.8,345.8 462.2,345.9 462.6,346.0 463.0,346.0 463.4,346.0 463.8,346.0 464.2,345.9 464.7,345.9 465.1,345.8 465.5,345.7 465.9,345.6 466.3,345.6 466.8,345.5 467.2,345.4 467.6,345.4 468.0,345.4 468.4,345.4 468.8,345.4 469.2,345.5 469.6,345.6 470.0,345.6 470.4,345.7 470.8,345.8 471.2,346.0 471.6,346.1 472.0,346.2 472.4,346.3 472.8,346.4 473.2,346.6 473.6,346.7 474.0,346.8 474.4,346.8 474.8,346.9 475.2,347.0 475.6,347.0 476.0,347.0 476.4,347.0 476.8,346.9 477.2,346.9 477.6,346.8 478.1,346.6 478.5,346.5 478.9,346.3 479.3,346.2 479.7,346.0 480.1,345.9 480.5,345.7 480.9,345.6 481.4,345.4 481.8,345.3 482.2,345.3 482.6,345.2 483.0,345.2 483.4,345.2 483.8,345.3 484.2,345.4 484.7,345.5 485.1,345.6 485.5,345.8 485.9,346.0 486.3,346.1 486.8,346.2 487.2,346.3 487.6,346.4 488.0,346.4 488.4,346.4 488.8,346.3 489.2,346.3 489.6,346.2 490.0,346.1 490.4,346.0 490.8,345.9 491.2,345.7 491.6,345.6 492.0,345.5 492.4,345.4 492.8,345.3 493.2,345.3 493.6,345.2 494.0,345.2 494.4,345.2 494.8,345.2 495.2,345.3 495.6,345.3 496.0,345.3 496.4,345.4 496.8,345.5 497.2,345.5 497.6,345.6 498.0,345.6 498.4,345.7 498.8,345.7 499.2,345.8 499.6,345.8 500.0,345.8 500.4,345.8 500.8,345.7 501.2,345.7 501.6,345.6 502.0,345.4 502.4,345.3 502.8,345.2 503.2,345.0 503.6,344.9 504.0,344.8 504.4,344.6 504.8,344.5 505.2,344.5 505.6,344.4 506.0,344.4 506.4,344.4 506.8,344.5 507.2,344.5 507.6,344.6 508.0,344.8 508.4,344.9 508.8,345.0 509.2,345.2 509.6,345.3 510.0,345.4 510.4,345.6 510.8,345.7 511.2,345.7 511.6,345.8 512.0,345.8 512.4,345.8 512.8,345.8 513.2,345.7 513.6,345.7 514.0,345.6 514.4,345.5 514.8,345.4 515.2,345.4 515.6,345.3 516.0,345.2 516.4,345.1 516.8,345.1 517.2,345.0 517.6,345.0 518.0,345.0 518.4,345.0 518.8,345.0 519.2,345.1 519.6,345.1 520.0,345.1 520.4,345.2 520.8,345.3 521.2,345.3 521.6,345.4 522.0,345.4 522.4,345.5 522.8,345.5 523.2,345.6 523.6,345.6 524.0,345.6 524.4,345.6 524.8,345.6 525.2,345.5 525.6,345.5 526.0,345.4 526.4,345.3 526.8,345.2 527.2,345.2 527.6,345.1 528.0,345.0 528.4,344.9 528.8,344.9 529.2,344.8 529.6,344.8 530.0,344.8 530.4,344.8 530.8,344.8 531.2,344.8 531.6,344.8 532.0,344.9 532.4,344.9 532.8,344.9 533.2,344.9 533.6,344.9 534.0,344.9 534.4,345.0 534.8,345.0 535.2,345.0 535.6,345.0 536.0,345.0 536.4,345.0 536.8,344.9 537.2,344.8 537.7,344.7 538.1,344.6 538.5,344.4 538.9,344.2 539.3,344.1 539.8,344.0 540.2,343.9 540.6,343.8 541.0,343.8" fill="none" stroke="#0072BD" stroke-width="1.75" stroke-linejoin="round" stroke-linecap="butt"/>
</g>
<path d="M321.9 242.6H541.0V415.2" fill="none" stroke="#a6a6a6" stroke-width="1"/>
<path d="M321.9 242.6V415.2H541.0" fill="none" stroke="#7c7c7c" stroke-width="1"/>
<path d="M321.8 415.2v-2.2M321.8 242.6v2.2M343.7 415.2v-2.2M343.7 242.6v2.2M365.6 415.2v-2.2M365.6 242.6v2.2M387.5 415.2v-2.2M387.5 242.6v2.2M409.4 415.2v-2.2M409.4 242.6v2.2M431.4 415.2v-2.2M431.4 242.6v2.2M453.3 415.2v-2.2M453.3 242.6v2.2M475.2 415.2v-2.2M475.2 242.6v2.2M497.1 415.2v-2.2M497.1 242.6v2.2M519.0 415.2v-2.2M519.0 242.6v2.2M541.0 415.2v-2.2M541.0 242.6v2.2M321.9 415.2h2.2M541.0 415.2h-2.2M321.9 397.9h2.2M541.0 397.9h-2.2M321.9 380.7h2.2M541.0 380.7h-2.2M321.9 363.4h2.2M541.0 363.4h-2.2M321.9 346.2h2.2M541.0 346.2h-2.2M321.9 328.9h2.2M541.0 328.9h-2.2M321.9 311.7h2.2M541.0 311.7h-2.2M321.9 294.4h2.2M541.0 294.4h-2.2M321.9 277.2h2.2M541.0 277.2h-2.2M321.9 259.9h2.2M541.0 259.9h-2.2M321.9 242.7h2.2M541.0 242.7h-2.2" fill="none" stroke="#808080" stroke-width="0.8"/>
<text x="321.8" y="425.2" text-anchor="middle" font-size="6.4">-0.02</text>
<text x="343.7" y="425.2" text-anchor="middle" font-size="6.4">-0.01</text>
<text x="365.6" y="425.2" text-anchor="middle" font-size="6.4">0</text>
<text x="387.5" y="425.2" text-anchor="middle" font-size="6.4">0.01</text>
<text x="409.4" y="425.2" text-anchor="middle" font-size="6.4">0.02</text>
<text x="431.4" y="425.2" text-anchor="middle" font-size="6.4">0.03</text>
<text x="453.3" y="425.2" text-anchor="middle" font-size="6.4">0.04</text>
<text x="475.2" y="425.2" text-anchor="middle" font-size="6.4">0.05</text>
<text x="497.1" y="425.2" text-anchor="middle" font-size="6.4">0.06</text>
<text x="519.0" y="425.2" text-anchor="middle" font-size="6.4">0.07</text>
<text x="541.0" y="425.2" text-anchor="middle" font-size="6.4">0.08</text>
<text x="318.7" y="418.0" text-anchor="end" font-size="6.4">0.2</text>
<text x="318.7" y="400.8" text-anchor="end" font-size="6.4">0.22</text>
<text x="318.7" y="383.5" text-anchor="end" font-size="6.4">0.24</text>
<text x="318.7" y="366.2" text-anchor="end" font-size="6.4">0.26</text>
<text x="318.7" y="349.0" text-anchor="end" font-size="6.4">0.28</text>
<text x="318.7" y="331.7" text-anchor="end" font-size="6.4">0.3</text>
<text x="318.7" y="314.5" text-anchor="end" font-size="6.4">0.32</text>
<text x="318.7" y="297.2" text-anchor="end" font-size="6.4">0.34</text>
<text x="318.7" y="280.0" text-anchor="end" font-size="6.4">0.36</text>
<text x="318.7" y="262.8" text-anchor="end" font-size="6.4">0.38</text>
<text x="318.7" y="245.5" text-anchor="end" font-size="6.4">0.4</text>
<text x="431.4" y="434.5" text-anchor="middle" font-size="7.35">time (s)</text>
<text transform="translate(301.8 329.7) rotate(-90)" text-anchor="middle" font-size="7.35">duty cycle</text>
<rect x="492.3" y="391.3" width="43.0" height="18.4" fill="#fff" stroke="#6e6e6e" stroke-width="1"/>
<line x1="495.0" y1="396.6" x2="514.6" y2="396.6" stroke="#D95319" stroke-width="1.8"/>
<text transform="translate(516.2 398.5) scale(0.92 1)" font-size="6.4" style="stroke-width:0.2px">d sim.</text>
<line x1="495.0" y1="404.9" x2="514.6" y2="404.9" stroke="#0072BD" stroke-width="1.8"/>
<text transform="translate(516.2 406.8) scale(0.92 1)" font-size="6.4" style="stroke-width:0.2px">d exp.</text>
<text transform="translate(426.0 455.4) scale(0.95 1)" text-anchor="middle" font-family="Liberation Serif, serif" font-size="13.4" fill="#111" style="stroke:none">(<tspan font-weight="bold">d</tspan>)</text>
</svg>
</body></html>
